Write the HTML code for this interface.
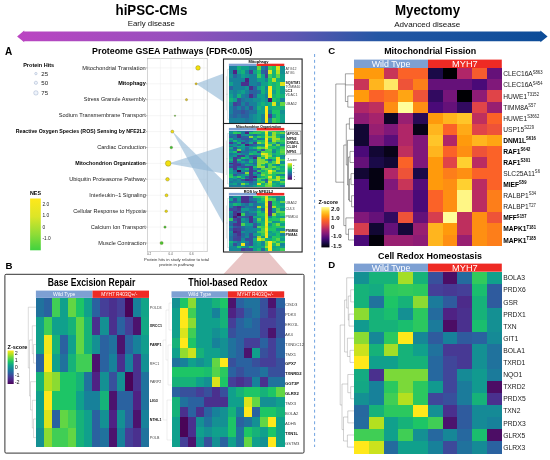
<!DOCTYPE html>
<html><head><meta charset="utf-8"><title>Figure</title>
<style>html,body{margin:0;padding:0;background:#fff}svg{display:block}</style></head>
<body>
<svg width="550" height="460" viewBox="0 0 550 460" font-family="'Liberation Sans', sans-serif">
<defs><linearGradient id="ag" x1="0" x2="1" y1="0" y2="0"><stop offset="0" stop-color="#bb45c2"/><stop offset="0.3" stop-color="#9650bd"/><stop offset="0.52" stop-color="#5f56b2"/><stop offset="0.68" stop-color="#2457a4"/><stop offset="1" stop-color="#0c4c98"/></linearGradient>
<linearGradient id="nes" x1="0" x2="0" y1="0" y2="1"><stop offset="0" stop-color="#ffe81a"/><stop offset="0.35" stop-color="#dce528"/><stop offset="0.7" stop-color="#8ddc37"/><stop offset="1" stop-color="#3fd23f"/></linearGradient>
<linearGradient id="vir" x1="0" x2="0" y1="1" y2="0"><stop offset="0.000" stop-color="#4a0458"/><stop offset="0.111" stop-color="#4f2284"/><stop offset="0.222" stop-color="#453f98"/><stop offset="0.333" stop-color="#2a62a0"/><stop offset="0.444" stop-color="#17819a"/><stop offset="0.556" stop-color="#10a08c"/><stop offset="0.667" stop-color="#1dc566"/><stop offset="0.778" stop-color="#62d644"/><stop offset="0.889" stop-color="#b4e01f"/><stop offset="1.000" stop-color="#ffe81a"/></linearGradient>
<linearGradient id="inf" x1="0" x2="0" y1="1" y2="0"><stop offset="0.000" stop-color="#000004"/><stop offset="0.111" stop-color="#1a0a48"/><stop offset="0.222" stop-color="#4a0a78"/><stop offset="0.333" stop-color="#80187a"/><stop offset="0.444" stop-color="#b02668"/><stop offset="0.556" stop-color="#e04448"/><stop offset="0.667" stop-color="#fb6228"/><stop offset="0.778" stop-color="#ff9a0c"/><stop offset="0.889" stop-color="#ffd030"/><stop offset="1.000" stop-color="#ffff9a"/></linearGradient></defs>
<rect width="550" height="460" fill="#fff"/>
<text x="151.40" y="14.60" font-size="14.30" font-weight="bold" text-anchor="middle" fill="#000" textLength="71.8" lengthAdjust="spacingAndGlyphs">hiPSC-CMs</text>
<text x="151.30" y="25.80" font-size="7.80" font-weight="normal" text-anchor="middle" fill="#111" textLength="47.3" lengthAdjust="spacingAndGlyphs">Early disease</text>
<text x="427.50" y="14.90" font-size="14.20" font-weight="bold" text-anchor="middle" fill="#000" textLength="65.2" lengthAdjust="spacingAndGlyphs">Myectomy</text>
<text x="427.30" y="27.20" font-size="7.80" font-weight="normal" text-anchor="middle" fill="#111" textLength="66.2" lengthAdjust="spacingAndGlyphs">Advanced disease</text>
<polygon points="17.1,36.5 24.2,30.6 24.2,31.5 540.4,31.5 540.4,30.6 547.6,36.5 540.4,42.2 540.4,41.3 24.2,41.3 24.2,42.2" fill="url(#ag)"/>
<line x1="314.6" y1="54" x2="314.6" y2="447" stroke="#5f97dc" stroke-width="0.9" stroke-dasharray="3,2.83"/>
<text x="4.90" y="55.40" font-size="10.00" font-weight="bold" text-anchor="start" fill="#000">A</text>
<text x="172.30" y="54.00" font-size="8.60" font-weight="bold" text-anchor="middle" fill="#000" textLength="160.5" lengthAdjust="spacingAndGlyphs">Proteome GSEA Pathways (FDR&lt;0.05)</text>
<text x="38.70" y="66.60" font-size="5.40" font-weight="bold" text-anchor="middle" fill="#000" textLength="31.0" lengthAdjust="spacingAndGlyphs">Protein Hits</text>
<circle cx="35.9" cy="73.6" r="1.2" fill="#eef3fb" stroke="#8aa0c0" stroke-width="0.4"/>
<text x="41.30" y="75.70" font-size="6.10" font-weight="normal" text-anchor="start" fill="#222">25</text>
<circle cx="35.9" cy="82.8" r="1.6" fill="#eef3fb" stroke="#8aa0c0" stroke-width="0.4"/>
<text x="41.30" y="84.90" font-size="6.10" font-weight="normal" text-anchor="start" fill="#222">50</text>
<circle cx="35.9" cy="92.9" r="2.2" fill="#eef3fb" stroke="#8aa0c0" stroke-width="0.4"/>
<text x="41.30" y="95.00" font-size="6.10" font-weight="normal" text-anchor="start" fill="#222">75</text>
<text x="30.00" y="195.00" font-size="5.40" font-weight="bold" text-anchor="start" fill="#000" textLength="11.0" lengthAdjust="spacingAndGlyphs">NES</text>
<rect x="30.1" y="198.5" width="10.7" height="51.8" fill="url(#nes)"/>
<text x="42.40" y="205.70" font-size="4.80" font-weight="normal" text-anchor="start" fill="#222">2.0</text>
<text x="42.40" y="217.20" font-size="4.80" font-weight="normal" text-anchor="start" fill="#222">1.0</text>
<text x="42.40" y="228.70" font-size="4.80" font-weight="normal" text-anchor="start" fill="#222">0</text>
<text x="42.40" y="239.70" font-size="4.80" font-weight="normal" text-anchor="start" fill="#222">-1.0</text>
<rect x="147.4" y="58.3" width="59.8" height="193.4" fill="#fff" stroke="#b8b8b8" stroke-width="0.6"/>
<line x1="160.4" y1="58.3" x2="160.4" y2="251.7" stroke="#ececec" stroke-width="0.5"/>
<line x1="170.9" y1="58.3" x2="170.9" y2="251.7" stroke="#ececec" stroke-width="0.5"/>
<line x1="181.7" y1="58.3" x2="181.7" y2="251.7" stroke="#ececec" stroke-width="0.5"/>
<line x1="193.0" y1="58.3" x2="193.0" y2="251.7" stroke="#ececec" stroke-width="0.5"/>
<line x1="203.9" y1="58.3" x2="203.9" y2="251.7" stroke="#ececec" stroke-width="0.5"/>
<line x1="147.4" y1="67.9" x2="207.2" y2="67.9" stroke="#ececec" stroke-width="0.5"/>
<line x1="145.9" y1="67.9" x2="147.4" y2="67.9" stroke="#555" stroke-width="0.4"/>
<line x1="147.4" y1="83.8" x2="207.2" y2="83.8" stroke="#ececec" stroke-width="0.5"/>
<line x1="145.9" y1="83.8" x2="147.4" y2="83.8" stroke="#555" stroke-width="0.4"/>
<line x1="147.4" y1="99.7" x2="207.2" y2="99.7" stroke="#ececec" stroke-width="0.5"/>
<line x1="145.9" y1="99.7" x2="147.4" y2="99.7" stroke="#555" stroke-width="0.4"/>
<line x1="147.4" y1="115.7" x2="207.2" y2="115.7" stroke="#ececec" stroke-width="0.5"/>
<line x1="145.9" y1="115.7" x2="147.4" y2="115.7" stroke="#555" stroke-width="0.4"/>
<line x1="147.4" y1="131.6" x2="207.2" y2="131.6" stroke="#ececec" stroke-width="0.5"/>
<line x1="145.9" y1="131.6" x2="147.4" y2="131.6" stroke="#555" stroke-width="0.4"/>
<line x1="147.4" y1="147.5" x2="207.2" y2="147.5" stroke="#ececec" stroke-width="0.5"/>
<line x1="145.9" y1="147.5" x2="147.4" y2="147.5" stroke="#555" stroke-width="0.4"/>
<line x1="147.4" y1="163.4" x2="207.2" y2="163.4" stroke="#ececec" stroke-width="0.5"/>
<line x1="145.9" y1="163.4" x2="147.4" y2="163.4" stroke="#555" stroke-width="0.4"/>
<line x1="147.4" y1="179.3" x2="207.2" y2="179.3" stroke="#ececec" stroke-width="0.5"/>
<line x1="145.9" y1="179.3" x2="147.4" y2="179.3" stroke="#555" stroke-width="0.4"/>
<line x1="147.4" y1="195.3" x2="207.2" y2="195.3" stroke="#ececec" stroke-width="0.5"/>
<line x1="145.9" y1="195.3" x2="147.4" y2="195.3" stroke="#555" stroke-width="0.4"/>
<line x1="147.4" y1="211.2" x2="207.2" y2="211.2" stroke="#ececec" stroke-width="0.5"/>
<line x1="145.9" y1="211.2" x2="147.4" y2="211.2" stroke="#555" stroke-width="0.4"/>
<line x1="147.4" y1="227.1" x2="207.2" y2="227.1" stroke="#ececec" stroke-width="0.5"/>
<line x1="145.9" y1="227.1" x2="147.4" y2="227.1" stroke="#555" stroke-width="0.4"/>
<line x1="147.4" y1="243.0" x2="207.2" y2="243.0" stroke="#ececec" stroke-width="0.5"/>
<line x1="145.9" y1="243.0" x2="147.4" y2="243.0" stroke="#555" stroke-width="0.4"/>
<text x="145.80" y="69.50" font-size="5.50" font-weight="normal" text-anchor="end" fill="#222" textLength="63.6" lengthAdjust="spacingAndGlyphs">Mitochondrial Translation</text>
<text x="145.80" y="85.42" font-size="5.50" font-weight="bold" text-anchor="end" fill="#000" textLength="27.6" lengthAdjust="spacingAndGlyphs">Mitophagy</text>
<text x="145.80" y="101.34" font-size="5.50" font-weight="normal" text-anchor="end" fill="#222" textLength="62.1" lengthAdjust="spacingAndGlyphs">Stress Granule Assembly</text>
<text x="145.80" y="117.26" font-size="5.50" font-weight="normal" text-anchor="end" fill="#222" textLength="87.1" lengthAdjust="spacingAndGlyphs">Sodium Transmembrane Transport</text>
<text x="145.80" y="133.18" font-size="5.50" font-weight="bold" text-anchor="end" fill="#000" textLength="130.1" lengthAdjust="spacingAndGlyphs">Reactive Oxygen Species (ROS) Sensing by NFE2L2</text>
<text x="145.80" y="149.10" font-size="5.50" font-weight="normal" text-anchor="end" fill="#222" textLength="48.6" lengthAdjust="spacingAndGlyphs">Cardiac Conduction</text>
<text x="145.80" y="165.02" font-size="5.50" font-weight="bold" text-anchor="end" fill="#000" textLength="70.6" lengthAdjust="spacingAndGlyphs">Mitochondrion Organization</text>
<text x="145.80" y="180.94" font-size="5.50" font-weight="normal" text-anchor="end" fill="#222" textLength="76.6" lengthAdjust="spacingAndGlyphs">Ubiquitin Proteasome Pathway</text>
<text x="145.80" y="196.86" font-size="5.50" font-weight="normal" text-anchor="end" fill="#222" textLength="56.6" lengthAdjust="spacingAndGlyphs">Interleukin&#8722;1 Signaling</text>
<text x="145.80" y="212.78" font-size="5.50" font-weight="normal" text-anchor="end" fill="#222" textLength="72.6" lengthAdjust="spacingAndGlyphs">Cellular Response to Hypoxia</text>
<text x="145.80" y="228.70" font-size="5.50" font-weight="normal" text-anchor="end" fill="#222" textLength="55.1" lengthAdjust="spacingAndGlyphs">Calcium Ion Transport</text>
<text x="145.80" y="244.62" font-size="5.50" font-weight="normal" text-anchor="end" fill="#222" textLength="47.6" lengthAdjust="spacingAndGlyphs">Muscle Contraction</text>
<polygon points="196.1,83.7 223.5,73.5 223.5,102" fill="#8db6d6" fill-opacity="0.6"/>
<polygon points="168.2,163.4 223.5,146 223.5,173.5" fill="#8db6d6" fill-opacity="0.6"/>
<polygon points="172.3,131.3 223.5,181 223.5,224" fill="#8db6d6" fill-opacity="0.6"/>
<circle cx="198.0" cy="67.9" r="2.3" fill="#f5e10a" stroke="#6b6b20" stroke-width="0.35"/>
<circle cx="196.1" cy="83.8" r="1.1" fill="#e9c21a" stroke="#6b6b20" stroke-width="0.35"/>
<circle cx="186.5" cy="99.7" r="1.1" fill="#e0c020" stroke="#6b6b20" stroke-width="0.35"/>
<circle cx="175.0" cy="115.7" r="0.7" fill="#3fbf3f" stroke="#6b6b20" stroke-width="0.35"/>
<circle cx="172.3" cy="131.6" r="1.5" fill="#f2df10" stroke="#6b6b20" stroke-width="0.35"/>
<circle cx="171.3" cy="147.5" r="1.3" fill="#35c135" stroke="#6b6b20" stroke-width="0.35"/>
<circle cx="168.2" cy="163.4" r="2.8" fill="#f2e010" stroke="#6b6b20" stroke-width="0.35"/>
<circle cx="167.5" cy="179.3" r="1.8" fill="#f0dc10" stroke="#6b6b20" stroke-width="0.35"/>
<circle cx="166.5" cy="195.3" r="1.5" fill="#f0dc10" stroke="#6b6b20" stroke-width="0.35"/>
<circle cx="166.2" cy="211.2" r="1.3" fill="#eed810" stroke="#6b6b20" stroke-width="0.35"/>
<circle cx="165.0" cy="227.1" r="1.2" fill="#3cc33c" stroke="#6b6b20" stroke-width="0.35"/>
<circle cx="161.6" cy="243.0" r="1.6" fill="#45c830" stroke="#6b6b20" stroke-width="0.35"/>
<text x="149.00" y="254.60" font-size="3.00" font-weight="normal" text-anchor="middle" fill="#555">0.2</text>
<text x="170.70" y="254.60" font-size="3.00" font-weight="normal" text-anchor="middle" fill="#555">0.4</text>
<text x="191.50" y="254.60" font-size="3.00" font-weight="normal" text-anchor="middle" fill="#555">0.6</text>
<text x="176.60" y="260.60" font-size="4.40" font-weight="normal" text-anchor="middle" fill="#333" textLength="65.0" lengthAdjust="spacingAndGlyphs">Protein hits in study relative to total</text>
<text x="176.70" y="266.20" font-size="4.40" font-weight="normal" text-anchor="middle" fill="#333" textLength="35.0" lengthAdjust="spacingAndGlyphs">protein in pathway</text>
<polygon points="243.7,252.5 268.6,252.5 287.5,274 223.6,274" fill="#e9c6c6"/>
<rect x="223.5" y="59.0" width="78.6" height="64.7" fill="#fff" stroke="#222" stroke-width="1.1"/>
<rect x="228.9" y="63.7" width="27.7" height="2.6" fill="#7da0d3"/>
<rect x="256.6" y="63.7" width="27.7" height="2.6" fill="#ee2a24"/>
<g shape-rendering="crispEdges">
<rect x="228.90" y="66.30" width="4.26" height="4.30" fill="#17819a"/>
<rect x="232.86" y="66.30" width="4.26" height="4.30" fill="#17819a"/>
<rect x="236.81" y="66.30" width="4.26" height="4.30" fill="#16b279"/>
<rect x="240.77" y="66.30" width="4.26" height="4.30" fill="#10a08c"/>
<rect x="244.73" y="66.30" width="4.26" height="4.30" fill="#10a08c"/>
<rect x="248.69" y="66.30" width="4.26" height="4.30" fill="#17819a"/>
<rect x="252.64" y="66.30" width="4.26" height="4.30" fill="#17819a"/>
<rect x="256.60" y="66.30" width="4.26" height="4.30" fill="#62d644"/>
<rect x="260.56" y="66.30" width="4.26" height="4.30" fill="#17819a"/>
<rect x="264.51" y="66.30" width="4.26" height="4.30" fill="#2a62a0"/>
<rect x="268.47" y="66.30" width="4.26" height="4.30" fill="#40ce55"/>
<rect x="272.43" y="66.30" width="4.26" height="4.30" fill="#1dc566"/>
<rect x="276.39" y="66.30" width="4.26" height="4.30" fill="#dae41c"/>
<rect x="280.34" y="66.30" width="4.26" height="4.30" fill="#149093"/>
<rect x="228.90" y="70.30" width="4.26" height="4.30" fill="#17819a"/>
<rect x="232.86" y="70.30" width="4.26" height="4.30" fill="#4f2284"/>
<rect x="236.81" y="70.30" width="4.26" height="4.30" fill="#10a08c"/>
<rect x="240.77" y="70.30" width="4.26" height="4.30" fill="#16b279"/>
<rect x="244.73" y="70.30" width="4.26" height="4.30" fill="#17819a"/>
<rect x="248.69" y="70.30" width="4.26" height="4.30" fill="#453f98"/>
<rect x="252.64" y="70.30" width="4.26" height="4.30" fill="#10a08c"/>
<rect x="256.60" y="70.30" width="4.26" height="4.30" fill="#1dc566"/>
<rect x="260.56" y="70.30" width="4.26" height="4.30" fill="#2a62a0"/>
<rect x="264.51" y="70.30" width="4.26" height="4.30" fill="#38509c"/>
<rect x="268.47" y="70.30" width="4.26" height="4.30" fill="#dae41c"/>
<rect x="272.43" y="70.30" width="4.26" height="4.30" fill="#16b279"/>
<rect x="276.39" y="70.30" width="4.26" height="4.30" fill="#b4e01f"/>
<rect x="280.34" y="70.30" width="4.26" height="4.30" fill="#149093"/>
<rect x="228.90" y="74.30" width="4.26" height="4.30" fill="#149093"/>
<rect x="232.86" y="74.30" width="4.26" height="4.30" fill="#2a62a0"/>
<rect x="236.81" y="74.30" width="4.26" height="4.30" fill="#17819a"/>
<rect x="240.77" y="74.30" width="4.26" height="4.30" fill="#10a08c"/>
<rect x="244.73" y="74.30" width="4.26" height="4.30" fill="#149093"/>
<rect x="248.69" y="74.30" width="4.26" height="4.30" fill="#17819a"/>
<rect x="252.64" y="74.30" width="4.26" height="4.30" fill="#17819a"/>
<rect x="256.60" y="74.30" width="4.26" height="4.30" fill="#40ce55"/>
<rect x="260.56" y="74.30" width="4.26" height="4.30" fill="#10a08c"/>
<rect x="264.51" y="74.30" width="4.26" height="4.30" fill="#453f98"/>
<rect x="268.47" y="74.30" width="4.26" height="4.30" fill="#40ce55"/>
<rect x="272.43" y="74.30" width="4.26" height="4.30" fill="#16b279"/>
<rect x="276.39" y="74.30" width="4.26" height="4.30" fill="#62d644"/>
<rect x="280.34" y="74.30" width="4.26" height="4.30" fill="#10a08c"/>
<rect x="228.90" y="78.30" width="4.26" height="4.30" fill="#17819a"/>
<rect x="232.86" y="78.30" width="4.26" height="4.30" fill="#17819a"/>
<rect x="236.81" y="78.30" width="4.26" height="4.30" fill="#17819a"/>
<rect x="240.77" y="78.30" width="4.26" height="4.30" fill="#17819a"/>
<rect x="244.73" y="78.30" width="4.26" height="4.30" fill="#4f2284"/>
<rect x="248.69" y="78.30" width="4.26" height="4.30" fill="#17819a"/>
<rect x="252.64" y="78.30" width="4.26" height="4.30" fill="#17819a"/>
<rect x="256.60" y="78.30" width="4.26" height="4.30" fill="#10a08c"/>
<rect x="260.56" y="78.30" width="4.26" height="4.30" fill="#10a08c"/>
<rect x="264.51" y="78.30" width="4.26" height="4.30" fill="#17819a"/>
<rect x="268.47" y="78.30" width="4.26" height="4.30" fill="#1dc566"/>
<rect x="272.43" y="78.30" width="4.26" height="4.30" fill="#b4e01f"/>
<rect x="276.39" y="78.30" width="4.26" height="4.30" fill="#16b279"/>
<rect x="280.34" y="78.30" width="4.26" height="4.30" fill="#10a08c"/>
<rect x="228.90" y="82.30" width="4.26" height="4.30" fill="#10a08c"/>
<rect x="232.86" y="82.30" width="4.26" height="4.30" fill="#17819a"/>
<rect x="236.81" y="82.30" width="4.26" height="4.30" fill="#17819a"/>
<rect x="240.77" y="82.30" width="4.26" height="4.30" fill="#4a308e"/>
<rect x="244.73" y="82.30" width="4.26" height="4.30" fill="#4a308e"/>
<rect x="248.69" y="82.30" width="4.26" height="4.30" fill="#17819a"/>
<rect x="252.64" y="82.30" width="4.26" height="4.30" fill="#17819a"/>
<rect x="256.60" y="82.30" width="4.26" height="4.30" fill="#20729d"/>
<rect x="260.56" y="82.30" width="4.26" height="4.30" fill="#10a08c"/>
<rect x="264.51" y="82.30" width="4.26" height="4.30" fill="#10a08c"/>
<rect x="268.47" y="82.30" width="4.26" height="4.30" fill="#1dc566"/>
<rect x="272.43" y="82.30" width="4.26" height="4.30" fill="#16b279"/>
<rect x="276.39" y="82.30" width="4.26" height="4.30" fill="#1dc566"/>
<rect x="280.34" y="82.30" width="4.26" height="4.30" fill="#dae41c"/>
<rect x="228.90" y="86.30" width="4.26" height="4.30" fill="#2a62a0"/>
<rect x="232.86" y="86.30" width="4.26" height="4.30" fill="#17819a"/>
<rect x="236.81" y="86.30" width="4.26" height="4.30" fill="#17819a"/>
<rect x="240.77" y="86.30" width="4.26" height="4.30" fill="#17819a"/>
<rect x="244.73" y="86.30" width="4.26" height="4.30" fill="#149093"/>
<rect x="248.69" y="86.30" width="4.26" height="4.30" fill="#4a308e"/>
<rect x="252.64" y="86.30" width="4.26" height="4.30" fill="#2a62a0"/>
<rect x="256.60" y="86.30" width="4.26" height="4.30" fill="#10a08c"/>
<rect x="260.56" y="86.30" width="4.26" height="4.30" fill="#16b279"/>
<rect x="264.51" y="86.30" width="4.26" height="4.30" fill="#17819a"/>
<rect x="268.47" y="86.30" width="4.26" height="4.30" fill="#ffe81a"/>
<rect x="272.43" y="86.30" width="4.26" height="4.30" fill="#16b279"/>
<rect x="276.39" y="86.30" width="4.26" height="4.30" fill="#1dc566"/>
<rect x="280.34" y="86.30" width="4.26" height="4.30" fill="#10a08c"/>
<rect x="228.90" y="90.30" width="4.26" height="4.30" fill="#149093"/>
<rect x="232.86" y="90.30" width="4.26" height="4.30" fill="#17819a"/>
<rect x="236.81" y="90.30" width="4.26" height="4.30" fill="#149093"/>
<rect x="240.77" y="90.30" width="4.26" height="4.30" fill="#10a08c"/>
<rect x="244.73" y="90.30" width="4.26" height="4.30" fill="#17819a"/>
<rect x="248.69" y="90.30" width="4.26" height="4.30" fill="#2a62a0"/>
<rect x="252.64" y="90.30" width="4.26" height="4.30" fill="#2a62a0"/>
<rect x="256.60" y="90.30" width="4.26" height="4.30" fill="#20729d"/>
<rect x="260.56" y="90.30" width="4.26" height="4.30" fill="#16b279"/>
<rect x="264.51" y="90.30" width="4.26" height="4.30" fill="#149093"/>
<rect x="268.47" y="90.30" width="4.26" height="4.30" fill="#ffe81a"/>
<rect x="272.43" y="90.30" width="4.26" height="4.30" fill="#10a08c"/>
<rect x="276.39" y="90.30" width="4.26" height="4.30" fill="#1dc566"/>
<rect x="280.34" y="90.30" width="4.26" height="4.30" fill="#10a08c"/>
<rect x="228.90" y="94.30" width="4.26" height="4.30" fill="#10a08c"/>
<rect x="232.86" y="94.30" width="4.26" height="4.30" fill="#17819a"/>
<rect x="236.81" y="94.30" width="4.26" height="4.30" fill="#16b279"/>
<rect x="240.77" y="94.30" width="4.26" height="4.30" fill="#17819a"/>
<rect x="244.73" y="94.30" width="4.26" height="4.30" fill="#20729d"/>
<rect x="248.69" y="94.30" width="4.26" height="4.30" fill="#4a308e"/>
<rect x="252.64" y="94.30" width="4.26" height="4.30" fill="#2a62a0"/>
<rect x="256.60" y="94.30" width="4.26" height="4.30" fill="#10a08c"/>
<rect x="260.56" y="94.30" width="4.26" height="4.30" fill="#10a08c"/>
<rect x="264.51" y="94.30" width="4.26" height="4.30" fill="#17819a"/>
<rect x="268.47" y="94.30" width="4.26" height="4.30" fill="#ffe81a"/>
<rect x="272.43" y="94.30" width="4.26" height="4.30" fill="#16b279"/>
<rect x="276.39" y="94.30" width="4.26" height="4.30" fill="#1dc566"/>
<rect x="280.34" y="94.30" width="4.26" height="4.30" fill="#16b279"/>
<rect x="228.90" y="98.30" width="4.26" height="4.30" fill="#16b279"/>
<rect x="232.86" y="98.30" width="4.26" height="4.30" fill="#10a08c"/>
<rect x="236.81" y="98.30" width="4.26" height="4.30" fill="#38509c"/>
<rect x="240.77" y="98.30" width="4.26" height="4.30" fill="#20729d"/>
<rect x="244.73" y="98.30" width="4.26" height="4.30" fill="#17819a"/>
<rect x="248.69" y="98.30" width="4.26" height="4.30" fill="#17819a"/>
<rect x="252.64" y="98.30" width="4.26" height="4.30" fill="#149093"/>
<rect x="256.60" y="98.30" width="4.26" height="4.30" fill="#149093"/>
<rect x="260.56" y="98.30" width="4.26" height="4.30" fill="#10a08c"/>
<rect x="264.51" y="98.30" width="4.26" height="4.30" fill="#149093"/>
<rect x="268.47" y="98.30" width="4.26" height="4.30" fill="#4c136e"/>
<rect x="272.43" y="98.30" width="4.26" height="4.30" fill="#1dc566"/>
<rect x="276.39" y="98.30" width="4.26" height="4.30" fill="#16b279"/>
<rect x="280.34" y="98.30" width="4.26" height="4.30" fill="#17819a"/>
<rect x="228.90" y="102.30" width="4.26" height="4.30" fill="#149093"/>
<rect x="232.86" y="102.30" width="4.26" height="4.30" fill="#453f98"/>
<rect x="236.81" y="102.30" width="4.26" height="4.30" fill="#38509c"/>
<rect x="240.77" y="102.30" width="4.26" height="4.30" fill="#17819a"/>
<rect x="244.73" y="102.30" width="4.26" height="4.30" fill="#2a62a0"/>
<rect x="248.69" y="102.30" width="4.26" height="4.30" fill="#17819a"/>
<rect x="252.64" y="102.30" width="4.26" height="4.30" fill="#17819a"/>
<rect x="256.60" y="102.30" width="4.26" height="4.30" fill="#10a08c"/>
<rect x="260.56" y="102.30" width="4.26" height="4.30" fill="#16b279"/>
<rect x="264.51" y="102.30" width="4.26" height="4.30" fill="#10a08c"/>
<rect x="268.47" y="102.30" width="4.26" height="4.30" fill="#16b279"/>
<rect x="272.43" y="102.30" width="4.26" height="4.30" fill="#dae41c"/>
<rect x="276.39" y="102.30" width="4.26" height="4.30" fill="#10a08c"/>
<rect x="280.34" y="102.30" width="4.26" height="4.30" fill="#62d644"/>
<rect x="228.90" y="106.30" width="4.26" height="4.30" fill="#17819a"/>
<rect x="232.86" y="106.30" width="4.26" height="4.30" fill="#2a62a0"/>
<rect x="236.81" y="106.30" width="4.26" height="4.30" fill="#17819a"/>
<rect x="240.77" y="106.30" width="4.26" height="4.30" fill="#2a62a0"/>
<rect x="244.73" y="106.30" width="4.26" height="4.30" fill="#17819a"/>
<rect x="248.69" y="106.30" width="4.26" height="4.30" fill="#38509c"/>
<rect x="252.64" y="106.30" width="4.26" height="4.30" fill="#17819a"/>
<rect x="256.60" y="106.30" width="4.26" height="4.30" fill="#16b279"/>
<rect x="260.56" y="106.30" width="4.26" height="4.30" fill="#10a08c"/>
<rect x="264.51" y="106.30" width="4.26" height="4.30" fill="#ffe81a"/>
<rect x="268.47" y="106.30" width="4.26" height="4.30" fill="#10a08c"/>
<rect x="272.43" y="106.30" width="4.26" height="4.30" fill="#16b279"/>
<rect x="276.39" y="106.30" width="4.26" height="4.30" fill="#16b279"/>
<rect x="280.34" y="106.30" width="4.26" height="4.30" fill="#16b279"/>
<rect x="228.90" y="110.30" width="4.26" height="4.30" fill="#17819a"/>
<rect x="232.86" y="110.30" width="4.26" height="4.30" fill="#2a62a0"/>
<rect x="236.81" y="110.30" width="4.26" height="4.30" fill="#2a62a0"/>
<rect x="240.77" y="110.30" width="4.26" height="4.30" fill="#38509c"/>
<rect x="244.73" y="110.30" width="4.26" height="4.30" fill="#2a62a0"/>
<rect x="248.69" y="110.30" width="4.26" height="4.30" fill="#20729d"/>
<rect x="252.64" y="110.30" width="4.26" height="4.30" fill="#20729d"/>
<rect x="256.60" y="110.30" width="4.26" height="4.30" fill="#10a08c"/>
<rect x="260.56" y="110.30" width="4.26" height="4.30" fill="#10a08c"/>
<rect x="264.51" y="110.30" width="4.26" height="4.30" fill="#ffe81a"/>
<rect x="268.47" y="110.30" width="4.26" height="4.30" fill="#17819a"/>
<rect x="272.43" y="110.30" width="4.26" height="4.30" fill="#1dc566"/>
<rect x="276.39" y="110.30" width="4.26" height="4.30" fill="#1dc566"/>
<rect x="280.34" y="110.30" width="4.26" height="4.30" fill="#149093"/>
<rect x="228.90" y="114.30" width="4.26" height="4.30" fill="#20729d"/>
<rect x="232.86" y="114.30" width="4.26" height="4.30" fill="#2a62a0"/>
<rect x="236.81" y="114.30" width="4.26" height="4.30" fill="#20729d"/>
<rect x="240.77" y="114.30" width="4.26" height="4.30" fill="#2a62a0"/>
<rect x="244.73" y="114.30" width="4.26" height="4.30" fill="#2a62a0"/>
<rect x="248.69" y="114.30" width="4.26" height="4.30" fill="#17819a"/>
<rect x="252.64" y="114.30" width="4.26" height="4.30" fill="#149093"/>
<rect x="256.60" y="114.30" width="4.26" height="4.30" fill="#10a08c"/>
<rect x="260.56" y="114.30" width="4.26" height="4.30" fill="#17819a"/>
<rect x="264.51" y="114.30" width="4.26" height="4.30" fill="#ffe81a"/>
<rect x="268.47" y="114.30" width="4.26" height="4.30" fill="#453f98"/>
<rect x="272.43" y="114.30" width="4.26" height="4.30" fill="#10a08c"/>
<rect x="276.39" y="114.30" width="4.26" height="4.30" fill="#1dc566"/>
<rect x="280.34" y="114.30" width="4.26" height="4.30" fill="#10a08c"/>
<rect x="228.90" y="118.30" width="4.26" height="4.30" fill="#17819a"/>
<rect x="232.86" y="118.30" width="4.26" height="4.30" fill="#17819a"/>
<rect x="236.81" y="118.30" width="4.26" height="4.30" fill="#17819a"/>
<rect x="240.77" y="118.30" width="4.26" height="4.30" fill="#17819a"/>
<rect x="244.73" y="118.30" width="4.26" height="4.30" fill="#20729d"/>
<rect x="248.69" y="118.30" width="4.26" height="4.30" fill="#17819a"/>
<rect x="252.64" y="118.30" width="4.26" height="4.30" fill="#149093"/>
<rect x="256.60" y="118.30" width="4.26" height="4.30" fill="#10a08c"/>
<rect x="260.56" y="118.30" width="4.26" height="4.30" fill="#17819a"/>
<rect x="264.51" y="118.30" width="4.26" height="4.30" fill="#ffe81a"/>
<rect x="268.47" y="118.30" width="4.26" height="4.30" fill="#17819a"/>
<rect x="272.43" y="118.30" width="4.26" height="4.30" fill="#40ce55"/>
<rect x="276.39" y="118.30" width="4.26" height="4.30" fill="#1dc566"/>
<rect x="280.34" y="118.30" width="4.26" height="4.30" fill="#10a08c"/>
</g>
<text x="258.50" y="63.20" font-size="4.10" font-weight="bold" text-anchor="middle" fill="#000" textLength="20.0" lengthAdjust="spacingAndGlyphs">Mitophagy</text>
<path d="M227.6,69.3 V119.3 M226.4,76.3 V110.3 M227.6,69.3 H228.9 M227.6,119.3 H228.9 M226.4,94.3 H227.6" stroke="#999" stroke-width="0.3" fill="none"/>
<rect x="223.5" y="123.5" width="78.6" height="64.7" fill="#fff" stroke="#222" stroke-width="1.1"/>
<rect x="228.9" y="127.9" width="27.7" height="2.6" fill="#7da0d3"/>
<rect x="256.6" y="127.9" width="27.7" height="2.6" fill="#ee2a24"/>
<g shape-rendering="crispEdges">
<rect x="228.90" y="130.50" width="4.26" height="2.18" fill="#178399"/>
<rect x="232.86" y="130.50" width="4.26" height="2.18" fill="#11a389"/>
<rect x="236.81" y="130.50" width="4.26" height="2.18" fill="#168499"/>
<rect x="240.77" y="130.50" width="4.26" height="2.18" fill="#17809a"/>
<rect x="244.73" y="130.50" width="4.26" height="2.18" fill="#34569d"/>
<rect x="248.69" y="130.50" width="4.26" height="2.18" fill="#1e759c"/>
<rect x="252.64" y="130.50" width="4.26" height="2.18" fill="#15af7d"/>
<rect x="256.60" y="130.50" width="4.26" height="2.18" fill="#28c860"/>
<rect x="260.56" y="130.50" width="4.26" height="2.18" fill="#57d349"/>
<rect x="264.51" y="130.50" width="4.26" height="2.18" fill="#f9e71a"/>
<rect x="268.47" y="130.50" width="4.26" height="2.18" fill="#4bd04f"/>
<rect x="272.43" y="130.50" width="4.26" height="2.18" fill="#33cb5b"/>
<rect x="276.39" y="130.50" width="4.26" height="2.18" fill="#1dc467"/>
<rect x="280.34" y="130.50" width="4.26" height="2.18" fill="#13a784"/>
<rect x="228.90" y="132.38" width="4.26" height="2.18" fill="#129790"/>
<rect x="232.86" y="132.38" width="4.26" height="2.18" fill="#30ca5d"/>
<rect x="236.81" y="132.38" width="4.26" height="2.18" fill="#22c663"/>
<rect x="240.77" y="132.38" width="4.26" height="2.18" fill="#1a7c9b"/>
<rect x="244.73" y="132.38" width="4.26" height="2.18" fill="#4f2182"/>
<rect x="248.69" y="132.38" width="4.26" height="2.18" fill="#26c762"/>
<rect x="252.64" y="132.38" width="4.26" height="2.18" fill="#3ccd56"/>
<rect x="256.60" y="132.38" width="4.26" height="2.18" fill="#34cb5b"/>
<rect x="260.56" y="132.38" width="4.26" height="2.18" fill="#17b477"/>
<rect x="264.51" y="132.38" width="4.26" height="2.18" fill="#f4e71b"/>
<rect x="268.47" y="132.38" width="4.26" height="2.18" fill="#109f8c"/>
<rect x="272.43" y="132.38" width="4.26" height="2.18" fill="#92dc2e"/>
<rect x="276.39" y="132.38" width="4.26" height="2.18" fill="#33ca5b"/>
<rect x="280.34" y="132.38" width="4.26" height="2.18" fill="#63d643"/>
<rect x="228.90" y="134.27" width="4.26" height="2.18" fill="#1f739d"/>
<rect x="232.86" y="134.27" width="4.26" height="2.18" fill="#226e9e"/>
<rect x="236.81" y="134.27" width="4.26" height="2.18" fill="#4a308e"/>
<rect x="240.77" y="134.27" width="4.26" height="2.18" fill="#158996"/>
<rect x="244.73" y="134.27" width="4.26" height="2.18" fill="#12988f"/>
<rect x="248.69" y="134.27" width="4.26" height="2.18" fill="#158897"/>
<rect x="252.64" y="134.27" width="4.26" height="2.18" fill="#246b9e"/>
<rect x="256.60" y="134.27" width="4.26" height="2.18" fill="#129591"/>
<rect x="260.56" y="134.27" width="4.26" height="2.18" fill="#12a587"/>
<rect x="264.51" y="134.27" width="4.26" height="2.18" fill="#d6e41d"/>
<rect x="268.47" y="134.27" width="4.26" height="2.18" fill="#11a488"/>
<rect x="272.43" y="134.27" width="4.26" height="2.18" fill="#90dc2f"/>
<rect x="276.39" y="134.27" width="4.26" height="2.18" fill="#16b07b"/>
<rect x="280.34" y="134.27" width="4.26" height="2.18" fill="#119d8d"/>
<rect x="228.90" y="136.15" width="4.26" height="2.18" fill="#2c609f"/>
<rect x="232.86" y="136.15" width="4.26" height="2.18" fill="#1e769c"/>
<rect x="236.81" y="136.15" width="4.26" height="2.18" fill="#4a308e"/>
<rect x="240.77" y="136.15" width="4.26" height="2.18" fill="#2e5d9f"/>
<rect x="244.73" y="136.15" width="4.26" height="2.18" fill="#2a62a0"/>
<rect x="248.69" y="136.15" width="4.26" height="2.18" fill="#91dc2f"/>
<rect x="252.64" y="136.15" width="4.26" height="2.18" fill="#109e8d"/>
<rect x="256.60" y="136.15" width="4.26" height="2.18" fill="#3ecd56"/>
<rect x="260.56" y="136.15" width="4.26" height="2.18" fill="#19bb70"/>
<rect x="264.51" y="136.15" width="4.26" height="2.18" fill="#d3e31d"/>
<rect x="268.47" y="136.15" width="4.26" height="2.18" fill="#79d939"/>
<rect x="272.43" y="136.15" width="4.26" height="2.18" fill="#a4de26"/>
<rect x="276.39" y="136.15" width="4.26" height="2.18" fill="#1bbf6c"/>
<rect x="280.34" y="136.15" width="4.26" height="2.18" fill="#158996"/>
<rect x="228.90" y="138.03" width="4.26" height="2.18" fill="#13a983"/>
<rect x="232.86" y="138.03" width="4.26" height="2.18" fill="#1f749d"/>
<rect x="236.81" y="138.03" width="4.26" height="2.18" fill="#1b7a9b"/>
<rect x="240.77" y="138.03" width="4.26" height="2.18" fill="#32579e"/>
<rect x="244.73" y="138.03" width="4.26" height="2.18" fill="#35549d"/>
<rect x="248.69" y="138.03" width="4.26" height="2.18" fill="#27689f"/>
<rect x="252.64" y="138.03" width="4.26" height="2.18" fill="#18b874"/>
<rect x="256.60" y="138.03" width="4.26" height="2.18" fill="#21709d"/>
<rect x="260.56" y="138.03" width="4.26" height="2.18" fill="#168499"/>
<rect x="264.51" y="138.03" width="4.26" height="2.18" fill="#fae71a"/>
<rect x="268.47" y="138.03" width="4.26" height="2.18" fill="#13a884"/>
<rect x="272.43" y="138.03" width="4.26" height="2.18" fill="#a4de26"/>
<rect x="276.39" y="138.03" width="4.26" height="2.18" fill="#9fdd29"/>
<rect x="280.34" y="138.03" width="4.26" height="2.18" fill="#18b775"/>
<rect x="228.90" y="139.92" width="4.26" height="2.18" fill="#168498"/>
<rect x="232.86" y="139.92" width="4.26" height="2.18" fill="#19ba71"/>
<rect x="236.81" y="139.92" width="4.26" height="2.18" fill="#158996"/>
<rect x="240.77" y="139.92" width="4.26" height="2.18" fill="#168698"/>
<rect x="244.73" y="139.92" width="4.26" height="2.18" fill="#28659f"/>
<rect x="248.69" y="139.92" width="4.26" height="2.18" fill="#168499"/>
<rect x="252.64" y="139.92" width="4.26" height="2.18" fill="#158997"/>
<rect x="256.60" y="139.92" width="4.26" height="2.18" fill="#1cc368"/>
<rect x="260.56" y="139.92" width="4.26" height="2.18" fill="#1abc6f"/>
<rect x="264.51" y="139.92" width="4.26" height="2.18" fill="#e9e61b"/>
<rect x="268.47" y="139.92" width="4.26" height="2.18" fill="#17809a"/>
<rect x="272.43" y="139.92" width="4.26" height="2.18" fill="#a4de26"/>
<rect x="276.39" y="139.92" width="4.26" height="2.18" fill="#51d24c"/>
<rect x="280.34" y="139.92" width="4.26" height="2.18" fill="#30ca5c"/>
<rect x="228.90" y="141.80" width="4.26" height="2.18" fill="#483793"/>
<rect x="232.86" y="141.80" width="4.26" height="2.18" fill="#20739d"/>
<rect x="236.81" y="141.80" width="4.26" height="2.18" fill="#17b478"/>
<rect x="240.77" y="141.80" width="4.26" height="2.18" fill="#453e97"/>
<rect x="244.73" y="141.80" width="4.26" height="2.18" fill="#1e769c"/>
<rect x="248.69" y="141.80" width="4.26" height="2.18" fill="#14aa81"/>
<rect x="252.64" y="141.80" width="4.26" height="2.18" fill="#414499"/>
<rect x="256.60" y="141.80" width="4.26" height="2.18" fill="#89db33"/>
<rect x="260.56" y="141.80" width="4.26" height="2.18" fill="#32ca5c"/>
<rect x="264.51" y="141.80" width="4.26" height="2.18" fill="#efe61b"/>
<rect x="268.47" y="141.80" width="4.26" height="2.18" fill="#1abd6e"/>
<rect x="272.43" y="141.80" width="4.26" height="2.18" fill="#3fcd55"/>
<rect x="276.39" y="141.80" width="4.26" height="2.18" fill="#158897"/>
<rect x="280.34" y="141.80" width="4.26" height="2.18" fill="#1bbf6c"/>
<rect x="228.90" y="143.68" width="4.26" height="2.18" fill="#148d95"/>
<rect x="232.86" y="143.68" width="4.26" height="2.18" fill="#139193"/>
<rect x="236.81" y="143.68" width="4.26" height="2.18" fill="#256a9e"/>
<rect x="240.77" y="143.68" width="4.26" height="2.18" fill="#10a18b"/>
<rect x="244.73" y="143.68" width="4.26" height="2.18" fill="#4e1d7d"/>
<rect x="248.69" y="143.68" width="4.26" height="2.18" fill="#36529c"/>
<rect x="252.64" y="143.68" width="4.26" height="2.18" fill="#246b9e"/>
<rect x="256.60" y="143.68" width="4.26" height="2.18" fill="#148f93"/>
<rect x="260.56" y="143.68" width="4.26" height="2.18" fill="#149093"/>
<rect x="264.51" y="143.68" width="4.26" height="2.18" fill="#fae71a"/>
<rect x="268.47" y="143.68" width="4.26" height="2.18" fill="#76d83b"/>
<rect x="272.43" y="143.68" width="4.26" height="2.18" fill="#139392"/>
<rect x="276.39" y="143.68" width="4.26" height="2.18" fill="#69d741"/>
<rect x="280.34" y="143.68" width="4.26" height="2.18" fill="#158a96"/>
<rect x="228.90" y="145.57" width="4.26" height="2.18" fill="#2e5c9f"/>
<rect x="232.86" y="145.57" width="4.26" height="2.18" fill="#12988f"/>
<rect x="236.81" y="145.57" width="4.26" height="2.18" fill="#16b07c"/>
<rect x="240.77" y="145.57" width="4.26" height="2.18" fill="#11a28a"/>
<rect x="244.73" y="145.57" width="4.26" height="2.18" fill="#148c95"/>
<rect x="248.69" y="145.57" width="4.26" height="2.18" fill="#168499"/>
<rect x="252.64" y="145.57" width="4.26" height="2.18" fill="#168499"/>
<rect x="256.60" y="145.57" width="4.26" height="2.18" fill="#34cb5b"/>
<rect x="260.56" y="145.57" width="4.26" height="2.18" fill="#17b379"/>
<rect x="264.51" y="145.57" width="4.26" height="2.18" fill="#ffe81a"/>
<rect x="268.47" y="145.57" width="4.26" height="2.18" fill="#1dc566"/>
<rect x="272.43" y="145.57" width="4.26" height="2.18" fill="#25c762"/>
<rect x="276.39" y="145.57" width="4.26" height="2.18" fill="#17b478"/>
<rect x="280.34" y="145.57" width="4.26" height="2.18" fill="#1cc16a"/>
<rect x="228.90" y="147.45" width="4.26" height="2.18" fill="#13a884"/>
<rect x="232.86" y="147.45" width="4.26" height="2.18" fill="#35539d"/>
<rect x="236.81" y="147.45" width="4.26" height="2.18" fill="#139193"/>
<rect x="240.77" y="147.45" width="4.26" height="2.18" fill="#129890"/>
<rect x="244.73" y="147.45" width="4.26" height="2.18" fill="#27679f"/>
<rect x="248.69" y="147.45" width="4.26" height="2.18" fill="#109e8d"/>
<rect x="252.64" y="147.45" width="4.26" height="2.18" fill="#1abd6e"/>
<rect x="256.60" y="147.45" width="4.26" height="2.18" fill="#72d83d"/>
<rect x="260.56" y="147.45" width="4.26" height="2.18" fill="#5dd546"/>
<rect x="264.51" y="147.45" width="4.26" height="2.18" fill="#d3e31d"/>
<rect x="268.47" y="147.45" width="4.26" height="2.18" fill="#27c761"/>
<rect x="272.43" y="147.45" width="4.26" height="2.18" fill="#1dc467"/>
<rect x="276.39" y="147.45" width="4.26" height="2.18" fill="#13a883"/>
<rect x="280.34" y="147.45" width="4.26" height="2.18" fill="#3acc58"/>
<rect x="228.90" y="149.33" width="4.26" height="2.18" fill="#158a96"/>
<rect x="232.86" y="149.33" width="4.26" height="2.18" fill="#26689f"/>
<rect x="236.81" y="149.33" width="4.26" height="2.18" fill="#71d83d"/>
<rect x="240.77" y="149.33" width="4.26" height="2.18" fill="#148d95"/>
<rect x="244.73" y="149.33" width="4.26" height="2.18" fill="#27679f"/>
<rect x="248.69" y="149.33" width="4.26" height="2.18" fill="#1b7a9b"/>
<rect x="252.64" y="149.33" width="4.26" height="2.18" fill="#1f749c"/>
<rect x="256.60" y="149.33" width="4.26" height="2.18" fill="#18b774"/>
<rect x="260.56" y="149.33" width="4.26" height="2.18" fill="#32579e"/>
<rect x="264.51" y="149.33" width="4.26" height="2.18" fill="#40ce55"/>
<rect x="268.47" y="149.33" width="4.26" height="2.18" fill="#55d34a"/>
<rect x="272.43" y="149.33" width="4.26" height="2.18" fill="#148e94"/>
<rect x="276.39" y="149.33" width="4.26" height="2.18" fill="#18b774"/>
<rect x="280.34" y="149.33" width="4.26" height="2.18" fill="#51d24d"/>
<rect x="228.90" y="151.22" width="4.26" height="2.18" fill="#11a28a"/>
<rect x="232.86" y="151.22" width="4.26" height="2.18" fill="#1cc269"/>
<rect x="236.81" y="151.22" width="4.26" height="2.18" fill="#493390"/>
<rect x="240.77" y="151.22" width="4.26" height="2.18" fill="#226f9d"/>
<rect x="244.73" y="151.22" width="4.26" height="2.18" fill="#22709d"/>
<rect x="248.69" y="151.22" width="4.26" height="2.18" fill="#129890"/>
<rect x="252.64" y="151.22" width="4.26" height="2.18" fill="#15ae7e"/>
<rect x="256.60" y="151.22" width="4.26" height="2.18" fill="#31599e"/>
<rect x="260.56" y="151.22" width="4.26" height="2.18" fill="#5bd447"/>
<rect x="264.51" y="151.22" width="4.26" height="2.18" fill="#40ce55"/>
<rect x="268.47" y="151.22" width="4.26" height="2.18" fill="#3ccd57"/>
<rect x="272.43" y="151.22" width="4.26" height="2.18" fill="#178399"/>
<rect x="276.39" y="151.22" width="4.26" height="2.18" fill="#1cc16a"/>
<rect x="280.34" y="151.22" width="4.26" height="2.18" fill="#63d643"/>
<rect x="228.90" y="153.10" width="4.26" height="2.18" fill="#1d789c"/>
<rect x="232.86" y="153.10" width="4.26" height="2.18" fill="#168698"/>
<rect x="236.81" y="153.10" width="4.26" height="2.18" fill="#109f8c"/>
<rect x="240.77" y="153.10" width="4.26" height="2.18" fill="#168499"/>
<rect x="244.73" y="153.10" width="4.26" height="2.18" fill="#1b7a9b"/>
<rect x="248.69" y="153.10" width="4.26" height="2.18" fill="#1dc467"/>
<rect x="252.64" y="153.10" width="4.26" height="2.18" fill="#14ac80"/>
<rect x="256.60" y="153.10" width="4.26" height="2.18" fill="#15ae7e"/>
<rect x="260.56" y="153.10" width="4.26" height="2.18" fill="#eae61b"/>
<rect x="264.51" y="153.10" width="4.26" height="2.18" fill="#dae41c"/>
<rect x="268.47" y="153.10" width="4.26" height="2.18" fill="#4ed14e"/>
<rect x="272.43" y="153.10" width="4.26" height="2.18" fill="#15af7d"/>
<rect x="276.39" y="153.10" width="4.26" height="2.18" fill="#1bbf6c"/>
<rect x="280.34" y="153.10" width="4.26" height="2.18" fill="#3ecd56"/>
<rect x="228.90" y="154.98" width="4.26" height="2.18" fill="#168797"/>
<rect x="232.86" y="154.98" width="4.26" height="2.18" fill="#12998f"/>
<rect x="236.81" y="154.98" width="4.26" height="2.18" fill="#473a95"/>
<rect x="240.77" y="154.98" width="4.26" height="2.18" fill="#463b95"/>
<rect x="244.73" y="154.98" width="4.26" height="2.18" fill="#129890"/>
<rect x="248.69" y="154.98" width="4.26" height="2.18" fill="#35549d"/>
<rect x="252.64" y="154.98" width="4.26" height="2.18" fill="#37519c"/>
<rect x="256.60" y="154.98" width="4.26" height="2.18" fill="#168499"/>
<rect x="260.56" y="154.98" width="4.26" height="2.18" fill="#6ad741"/>
<rect x="264.51" y="154.98" width="4.26" height="2.18" fill="#dae41c"/>
<rect x="268.47" y="154.98" width="4.26" height="2.18" fill="#7cd938"/>
<rect x="272.43" y="154.98" width="4.26" height="2.18" fill="#129691"/>
<rect x="276.39" y="154.98" width="4.26" height="2.18" fill="#19ba71"/>
<rect x="280.34" y="154.98" width="4.26" height="2.18" fill="#148f94"/>
<rect x="228.90" y="156.87" width="4.26" height="2.18" fill="#109e8d"/>
<rect x="232.86" y="156.87" width="4.26" height="2.18" fill="#473994"/>
<rect x="236.81" y="156.87" width="4.26" height="2.18" fill="#32579e"/>
<rect x="240.77" y="156.87" width="4.26" height="2.18" fill="#1dc566"/>
<rect x="244.73" y="156.87" width="4.26" height="2.18" fill="#13a983"/>
<rect x="248.69" y="156.87" width="4.26" height="2.18" fill="#1d769c"/>
<rect x="252.64" y="156.87" width="4.26" height="2.18" fill="#4d2989"/>
<rect x="256.60" y="156.87" width="4.26" height="2.18" fill="#76d83b"/>
<rect x="260.56" y="156.87" width="4.26" height="2.18" fill="#18b675"/>
<rect x="264.51" y="156.87" width="4.26" height="2.18" fill="#dae41c"/>
<rect x="268.47" y="156.87" width="4.26" height="2.18" fill="#27c761"/>
<rect x="272.43" y="156.87" width="4.26" height="2.18" fill="#27c861"/>
<rect x="276.39" y="156.87" width="4.26" height="2.18" fill="#e1e51c"/>
<rect x="280.34" y="156.87" width="4.26" height="2.18" fill="#139392"/>
<rect x="228.90" y="158.75" width="4.26" height="2.18" fill="#16b07c"/>
<rect x="232.86" y="158.75" width="4.26" height="2.18" fill="#473994"/>
<rect x="236.81" y="158.75" width="4.26" height="2.18" fill="#1bc06b"/>
<rect x="240.77" y="158.75" width="4.26" height="2.18" fill="#1e769c"/>
<rect x="244.73" y="158.75" width="4.26" height="2.18" fill="#2d5e9f"/>
<rect x="248.69" y="158.75" width="4.26" height="2.18" fill="#14aa82"/>
<rect x="252.64" y="158.75" width="4.26" height="2.18" fill="#178399"/>
<rect x="256.60" y="158.75" width="4.26" height="2.18" fill="#8bdb32"/>
<rect x="260.56" y="158.75" width="4.26" height="2.18" fill="#78d93a"/>
<rect x="264.51" y="158.75" width="4.26" height="2.18" fill="#15af7c"/>
<rect x="268.47" y="158.75" width="4.26" height="2.18" fill="#27679f"/>
<rect x="272.43" y="158.75" width="4.26" height="2.18" fill="#14aa82"/>
<rect x="276.39" y="158.75" width="4.26" height="2.18" fill="#e1e51c"/>
<rect x="280.34" y="158.75" width="4.26" height="2.18" fill="#46cf52"/>
<rect x="228.90" y="160.63" width="4.26" height="2.18" fill="#158b95"/>
<rect x="232.86" y="160.63" width="4.26" height="2.18" fill="#473994"/>
<rect x="236.81" y="160.63" width="4.26" height="2.18" fill="#197d9b"/>
<rect x="240.77" y="160.63" width="4.26" height="2.18" fill="#10a18b"/>
<rect x="244.73" y="160.63" width="4.26" height="2.18" fill="#17819a"/>
<rect x="248.69" y="160.63" width="4.26" height="2.18" fill="#19ba72"/>
<rect x="252.64" y="160.63" width="4.26" height="2.18" fill="#1a7b9b"/>
<rect x="256.60" y="160.63" width="4.26" height="2.18" fill="#8bdb32"/>
<rect x="260.56" y="160.63" width="4.26" height="2.18" fill="#7ed937"/>
<rect x="264.51" y="160.63" width="4.26" height="2.18" fill="#89db33"/>
<rect x="268.47" y="160.63" width="4.26" height="2.18" fill="#109f8d"/>
<rect x="272.43" y="160.63" width="4.26" height="2.18" fill="#4bd04f"/>
<rect x="276.39" y="160.63" width="4.26" height="2.18" fill="#e1e51c"/>
<rect x="280.34" y="160.63" width="4.26" height="2.18" fill="#139193"/>
<rect x="228.90" y="162.52" width="4.26" height="2.18" fill="#4c2989"/>
<rect x="232.86" y="162.52" width="4.26" height="2.18" fill="#473994"/>
<rect x="236.81" y="162.52" width="4.26" height="2.18" fill="#3f479a"/>
<rect x="240.77" y="162.52" width="4.26" height="2.18" fill="#197d9b"/>
<rect x="244.73" y="162.52" width="4.26" height="2.18" fill="#1e769c"/>
<rect x="248.69" y="162.52" width="4.26" height="2.18" fill="#1a7d9b"/>
<rect x="252.64" y="162.52" width="4.26" height="2.18" fill="#28659f"/>
<rect x="256.60" y="162.52" width="4.26" height="2.18" fill="#8bdb32"/>
<rect x="260.56" y="162.52" width="4.26" height="2.18" fill="#99dd2b"/>
<rect x="264.51" y="162.52" width="4.26" height="2.18" fill="#1abc70"/>
<rect x="268.47" y="162.52" width="4.26" height="2.18" fill="#31ca5c"/>
<rect x="272.43" y="162.52" width="4.26" height="2.18" fill="#54d34b"/>
<rect x="276.39" y="162.52" width="4.26" height="2.18" fill="#e1e51c"/>
<rect x="280.34" y="162.52" width="4.26" height="2.18" fill="#158b96"/>
<rect x="228.90" y="164.40" width="4.26" height="2.18" fill="#27679f"/>
<rect x="232.86" y="164.40" width="4.26" height="2.18" fill="#473994"/>
<rect x="236.81" y="164.40" width="4.26" height="2.18" fill="#483692"/>
<rect x="240.77" y="164.40" width="4.26" height="2.18" fill="#28659f"/>
<rect x="244.73" y="164.40" width="4.26" height="2.18" fill="#13aa82"/>
<rect x="248.69" y="164.40" width="4.26" height="2.18" fill="#109f8c"/>
<rect x="252.64" y="164.40" width="4.26" height="2.18" fill="#197e9b"/>
<rect x="256.60" y="164.40" width="4.26" height="2.18" fill="#8bdb32"/>
<rect x="260.56" y="164.40" width="4.26" height="2.18" fill="#1bc16a"/>
<rect x="264.51" y="164.40" width="4.26" height="2.18" fill="#148d94"/>
<rect x="268.47" y="164.40" width="4.26" height="2.18" fill="#4fd14e"/>
<rect x="272.43" y="164.40" width="4.26" height="2.18" fill="#10a08c"/>
<rect x="276.39" y="164.40" width="4.26" height="2.18" fill="#158a96"/>
<rect x="280.34" y="164.40" width="4.26" height="2.18" fill="#2dc95e"/>
<rect x="228.90" y="166.28" width="4.26" height="2.18" fill="#3d499a"/>
<rect x="232.86" y="166.28" width="4.26" height="2.18" fill="#473994"/>
<rect x="236.81" y="166.28" width="4.26" height="2.18" fill="#236e9e"/>
<rect x="240.77" y="166.28" width="4.26" height="2.18" fill="#37519c"/>
<rect x="244.73" y="166.28" width="4.26" height="2.18" fill="#3a4d9b"/>
<rect x="248.69" y="166.28" width="4.26" height="2.18" fill="#473994"/>
<rect x="252.64" y="166.28" width="4.26" height="2.18" fill="#1bc06c"/>
<rect x="256.60" y="166.28" width="4.26" height="2.18" fill="#8bdb32"/>
<rect x="260.56" y="166.28" width="4.26" height="2.18" fill="#91dc2f"/>
<rect x="264.51" y="166.28" width="4.26" height="2.18" fill="#1a7d9b"/>
<rect x="268.47" y="166.28" width="4.26" height="2.18" fill="#49d050"/>
<rect x="272.43" y="166.28" width="4.26" height="2.18" fill="#6bd740"/>
<rect x="276.39" y="166.28" width="4.26" height="2.18" fill="#1ec565"/>
<rect x="280.34" y="166.28" width="4.26" height="2.18" fill="#13a785"/>
<rect x="228.90" y="168.17" width="4.26" height="2.18" fill="#109f8d"/>
<rect x="232.86" y="168.17" width="4.26" height="2.18" fill="#473994"/>
<rect x="236.81" y="168.17" width="4.26" height="2.18" fill="#119a8f"/>
<rect x="240.77" y="168.17" width="4.26" height="2.18" fill="#158c95"/>
<rect x="244.73" y="168.17" width="4.26" height="2.18" fill="#19ba71"/>
<rect x="248.69" y="168.17" width="4.26" height="2.18" fill="#473994"/>
<rect x="252.64" y="168.17" width="4.26" height="2.18" fill="#139193"/>
<rect x="256.60" y="168.17" width="4.26" height="2.18" fill="#226f9e"/>
<rect x="260.56" y="168.17" width="4.26" height="2.18" fill="#4cd14f"/>
<rect x="264.51" y="168.17" width="4.26" height="2.18" fill="#6ed73f"/>
<rect x="268.47" y="168.17" width="4.26" height="2.18" fill="#54d24b"/>
<rect x="272.43" y="168.17" width="4.26" height="2.18" fill="#12a785"/>
<rect x="276.39" y="168.17" width="4.26" height="2.18" fill="#3dcd56"/>
<rect x="280.34" y="168.17" width="4.26" height="2.18" fill="#17b477"/>
<rect x="228.90" y="170.05" width="4.26" height="2.18" fill="#13a784"/>
<rect x="232.86" y="170.05" width="4.26" height="2.18" fill="#21719d"/>
<rect x="236.81" y="170.05" width="4.26" height="2.18" fill="#4a0458"/>
<rect x="240.77" y="170.05" width="4.26" height="2.18" fill="#158897"/>
<rect x="244.73" y="170.05" width="4.26" height="2.18" fill="#158a96"/>
<rect x="248.69" y="170.05" width="4.26" height="2.18" fill="#473994"/>
<rect x="252.64" y="170.05" width="4.26" height="2.18" fill="#3a4e9b"/>
<rect x="256.60" y="170.05" width="4.26" height="2.18" fill="#2ec95d"/>
<rect x="260.56" y="170.05" width="4.26" height="2.18" fill="#14ac80"/>
<rect x="264.51" y="170.05" width="4.26" height="2.18" fill="#33ca5b"/>
<rect x="268.47" y="170.05" width="4.26" height="2.18" fill="#fbe81a"/>
<rect x="272.43" y="170.05" width="4.26" height="2.18" fill="#7bd939"/>
<rect x="276.39" y="170.05" width="4.26" height="2.18" fill="#139392"/>
<rect x="280.34" y="170.05" width="4.26" height="2.18" fill="#14ab80"/>
<rect x="228.90" y="171.93" width="4.26" height="2.18" fill="#11a488"/>
<rect x="232.86" y="171.93" width="4.26" height="2.18" fill="#178299"/>
<rect x="236.81" y="171.93" width="4.26" height="2.18" fill="#31599e"/>
<rect x="240.77" y="171.93" width="4.26" height="2.18" fill="#305a9e"/>
<rect x="244.73" y="171.93" width="4.26" height="2.18" fill="#8bdb31"/>
<rect x="248.69" y="171.93" width="4.26" height="2.18" fill="#473994"/>
<rect x="252.64" y="171.93" width="4.26" height="2.18" fill="#12998f"/>
<rect x="256.60" y="171.93" width="4.26" height="2.18" fill="#2e5d9f"/>
<rect x="260.56" y="171.93" width="4.26" height="2.18" fill="#37cc59"/>
<rect x="264.51" y="171.93" width="4.26" height="2.18" fill="#2dc95e"/>
<rect x="268.47" y="171.93" width="4.26" height="2.18" fill="#cce31d"/>
<rect x="272.43" y="171.93" width="4.26" height="2.18" fill="#29c860"/>
<rect x="276.39" y="171.93" width="4.26" height="2.18" fill="#3fcd55"/>
<rect x="280.34" y="171.93" width="4.26" height="2.18" fill="#42ce54"/>
<rect x="228.90" y="173.82" width="4.26" height="2.18" fill="#1ec565"/>
<rect x="232.86" y="173.82" width="4.26" height="2.18" fill="#35539d"/>
<rect x="236.81" y="173.82" width="4.26" height="2.18" fill="#1a7d9b"/>
<rect x="240.77" y="173.82" width="4.26" height="2.18" fill="#129691"/>
<rect x="244.73" y="173.82" width="4.26" height="2.18" fill="#16b07c"/>
<rect x="248.69" y="173.82" width="4.26" height="2.18" fill="#473994"/>
<rect x="252.64" y="173.82" width="4.26" height="2.18" fill="#1c789c"/>
<rect x="256.60" y="173.82" width="4.26" height="2.18" fill="#13a983"/>
<rect x="260.56" y="173.82" width="4.26" height="2.18" fill="#78d93a"/>
<rect x="264.51" y="173.82" width="4.26" height="2.18" fill="#31ca5c"/>
<rect x="268.47" y="173.82" width="4.26" height="2.18" fill="#4ad050"/>
<rect x="272.43" y="173.82" width="4.26" height="2.18" fill="#1cc16a"/>
<rect x="276.39" y="173.82" width="4.26" height="2.18" fill="#148d95"/>
<rect x="280.34" y="173.82" width="4.26" height="2.18" fill="#158897"/>
<rect x="228.90" y="175.70" width="4.26" height="2.18" fill="#2bc85f"/>
<rect x="232.86" y="175.70" width="4.26" height="2.18" fill="#13a983"/>
<rect x="236.81" y="175.70" width="4.26" height="2.18" fill="#36cb5a"/>
<rect x="240.77" y="175.70" width="4.26" height="2.18" fill="#10a08c"/>
<rect x="244.73" y="175.70" width="4.26" height="2.18" fill="#31589e"/>
<rect x="248.69" y="175.70" width="4.26" height="2.18" fill="#473994"/>
<rect x="252.64" y="175.70" width="4.26" height="2.18" fill="#4f2283"/>
<rect x="256.60" y="175.70" width="4.26" height="2.18" fill="#119c8e"/>
<rect x="260.56" y="175.70" width="4.26" height="2.18" fill="#18b874"/>
<rect x="264.51" y="175.70" width="4.26" height="2.18" fill="#30ca5d"/>
<rect x="268.47" y="175.70" width="4.26" height="2.18" fill="#eae61b"/>
<rect x="272.43" y="175.70" width="4.26" height="2.18" fill="#17b577"/>
<rect x="276.39" y="175.70" width="4.26" height="2.18" fill="#b4e01f"/>
<rect x="280.34" y="175.70" width="4.26" height="2.18" fill="#1dc566"/>
<rect x="228.90" y="177.58" width="4.26" height="2.18" fill="#158997"/>
<rect x="232.86" y="177.58" width="4.26" height="2.18" fill="#10a18b"/>
<rect x="236.81" y="177.58" width="4.26" height="2.18" fill="#28669f"/>
<rect x="240.77" y="177.58" width="4.26" height="2.18" fill="#20c664"/>
<rect x="244.73" y="177.58" width="4.26" height="2.18" fill="#20729d"/>
<rect x="248.69" y="177.58" width="4.26" height="2.18" fill="#473994"/>
<rect x="252.64" y="177.58" width="4.26" height="2.18" fill="#148f94"/>
<rect x="256.60" y="177.58" width="4.26" height="2.18" fill="#47cf51"/>
<rect x="260.56" y="177.58" width="4.26" height="2.18" fill="#42ce54"/>
<rect x="264.51" y="177.58" width="4.26" height="2.18" fill="#1abd6e"/>
<rect x="268.47" y="177.58" width="4.26" height="2.18" fill="#95dc2d"/>
<rect x="272.43" y="177.58" width="4.26" height="2.18" fill="#1bc06b"/>
<rect x="276.39" y="177.58" width="4.26" height="2.18" fill="#b4e01f"/>
<rect x="280.34" y="177.58" width="4.26" height="2.18" fill="#58d449"/>
<rect x="228.90" y="179.47" width="4.26" height="2.18" fill="#149093"/>
<rect x="232.86" y="179.47" width="4.26" height="2.18" fill="#1e769c"/>
<rect x="236.81" y="179.47" width="4.26" height="2.18" fill="#139193"/>
<rect x="240.77" y="179.47" width="4.26" height="2.18" fill="#35549d"/>
<rect x="244.73" y="179.47" width="4.26" height="2.18" fill="#4c2c8b"/>
<rect x="248.69" y="179.47" width="4.26" height="2.18" fill="#473994"/>
<rect x="252.64" y="179.47" width="4.26" height="2.18" fill="#34569d"/>
<rect x="256.60" y="179.47" width="4.26" height="2.18" fill="#40ce55"/>
<rect x="260.56" y="179.47" width="4.26" height="2.18" fill="#139193"/>
<rect x="264.51" y="179.47" width="4.26" height="2.18" fill="#2f5b9e"/>
<rect x="268.47" y="179.47" width="4.26" height="2.18" fill="#75d83b"/>
<rect x="272.43" y="179.47" width="4.26" height="2.18" fill="#86da34"/>
<rect x="276.39" y="179.47" width="4.26" height="2.18" fill="#b4e01f"/>
<rect x="280.34" y="179.47" width="4.26" height="2.18" fill="#119c8e"/>
<rect x="228.90" y="181.35" width="4.26" height="2.18" fill="#1e769c"/>
<rect x="232.86" y="181.35" width="4.26" height="2.18" fill="#158996"/>
<rect x="236.81" y="181.35" width="4.26" height="2.18" fill="#158996"/>
<rect x="240.77" y="181.35" width="4.26" height="2.18" fill="#158a96"/>
<rect x="244.73" y="181.35" width="4.26" height="2.18" fill="#1a7c9b"/>
<rect x="248.69" y="181.35" width="4.26" height="2.18" fill="#2e5d9f"/>
<rect x="252.64" y="181.35" width="4.26" height="2.18" fill="#168797"/>
<rect x="256.60" y="181.35" width="4.26" height="2.18" fill="#24c763"/>
<rect x="260.56" y="181.35" width="4.26" height="2.18" fill="#5cd447"/>
<rect x="264.51" y="181.35" width="4.26" height="2.18" fill="#1a7c9b"/>
<rect x="268.47" y="181.35" width="4.26" height="2.18" fill="#d2e31d"/>
<rect x="272.43" y="181.35" width="4.26" height="2.18" fill="#119d8d"/>
<rect x="276.39" y="181.35" width="4.26" height="2.18" fill="#15ae7e"/>
<rect x="280.34" y="181.35" width="4.26" height="2.18" fill="#59d448"/>
<rect x="228.90" y="183.23" width="4.26" height="2.18" fill="#129790"/>
<rect x="232.86" y="183.23" width="4.26" height="2.18" fill="#12a587"/>
<rect x="236.81" y="183.23" width="4.26" height="2.18" fill="#1e759c"/>
<rect x="240.77" y="183.23" width="4.26" height="2.18" fill="#7ed938"/>
<rect x="244.73" y="183.23" width="4.26" height="2.18" fill="#17b576"/>
<rect x="248.69" y="183.23" width="4.26" height="2.18" fill="#1e759c"/>
<rect x="252.64" y="183.23" width="4.26" height="2.18" fill="#17829a"/>
<rect x="256.60" y="183.23" width="4.26" height="2.18" fill="#dee41c"/>
<rect x="260.56" y="183.23" width="4.26" height="2.18" fill="#14ac80"/>
<rect x="264.51" y="183.23" width="4.26" height="2.18" fill="#4bd050"/>
<rect x="268.47" y="183.23" width="4.26" height="2.18" fill="#a5de26"/>
<rect x="272.43" y="183.23" width="4.26" height="2.18" fill="#19ba71"/>
<rect x="276.39" y="183.23" width="4.26" height="2.18" fill="#109f8d"/>
<rect x="280.34" y="183.23" width="4.26" height="2.18" fill="#19b972"/>
<rect x="228.90" y="185.12" width="4.26" height="2.18" fill="#1b7a9b"/>
<rect x="232.86" y="185.12" width="4.26" height="2.18" fill="#197e9b"/>
<rect x="236.81" y="185.12" width="4.26" height="2.18" fill="#1a7c9b"/>
<rect x="240.77" y="185.12" width="4.26" height="2.18" fill="#149093"/>
<rect x="244.73" y="185.12" width="4.26" height="2.18" fill="#1f749d"/>
<rect x="248.69" y="185.12" width="4.26" height="2.18" fill="#168598"/>
<rect x="252.64" y="185.12" width="4.26" height="2.18" fill="#10a18b"/>
<rect x="256.60" y="185.12" width="4.26" height="2.18" fill="#1bbf6c"/>
<rect x="260.56" y="185.12" width="4.26" height="2.18" fill="#1bc06b"/>
<rect x="264.51" y="185.12" width="4.26" height="2.18" fill="#6ed83e"/>
<rect x="268.47" y="185.12" width="4.26" height="2.18" fill="#7fda37"/>
<rect x="272.43" y="185.12" width="4.26" height="2.18" fill="#15ae7e"/>
<rect x="276.39" y="185.12" width="4.26" height="2.18" fill="#13a884"/>
<rect x="280.34" y="185.12" width="4.26" height="2.18" fill="#21719d"/>
</g>
<text x="258.50" y="127.70" font-size="4.10" font-weight="bold" text-anchor="middle" fill="#000" textLength="45.0" lengthAdjust="spacingAndGlyphs">Mitochondrion Organization</text>
<path d="M227.6,133.5 V184.0 M226.4,140.5 V175.0 M227.6,133.5 H228.9 M227.6,184.0 H228.9 M226.4,158.8 H227.6" stroke="#999" stroke-width="0.3" fill="none"/>
<rect x="223.5" y="188.3" width="78.6" height="63.7" fill="#fff" stroke="#222" stroke-width="1.1"/>
<rect x="228.9" y="192.9" width="27.7" height="2.6" fill="#7da0d3"/>
<rect x="256.6" y="192.9" width="27.7" height="2.6" fill="#ee2a24"/>
<g shape-rendering="crispEdges">
<rect x="228.90" y="195.50" width="4.26" height="2.80" fill="#226f9d"/>
<rect x="232.86" y="195.50" width="4.26" height="2.80" fill="#129691"/>
<rect x="236.81" y="195.50" width="4.26" height="2.80" fill="#129691"/>
<rect x="240.77" y="195.50" width="4.26" height="2.80" fill="#4a308e"/>
<rect x="244.73" y="195.50" width="4.26" height="2.80" fill="#4a308e"/>
<rect x="248.69" y="195.50" width="4.26" height="2.80" fill="#33579d"/>
<rect x="252.64" y="195.50" width="4.26" height="2.80" fill="#1cc269"/>
<rect x="256.60" y="195.50" width="4.26" height="2.80" fill="#1dc467"/>
<rect x="260.56" y="195.50" width="4.26" height="2.80" fill="#3ecd56"/>
<rect x="264.51" y="195.50" width="4.26" height="2.80" fill="#e3e51c"/>
<rect x="268.47" y="195.50" width="4.26" height="2.80" fill="#19b972"/>
<rect x="272.43" y="195.50" width="4.26" height="2.80" fill="#11a28a"/>
<rect x="276.39" y="195.50" width="4.26" height="2.80" fill="#148f94"/>
<rect x="280.34" y="195.50" width="4.26" height="2.80" fill="#14ad7f"/>
<rect x="228.90" y="198.00" width="4.26" height="2.80" fill="#10a18b"/>
<rect x="232.86" y="198.00" width="4.26" height="2.80" fill="#36529c"/>
<rect x="236.81" y="198.00" width="4.26" height="2.80" fill="#129790"/>
<rect x="240.77" y="198.00" width="4.26" height="2.80" fill="#4a308e"/>
<rect x="244.73" y="198.00" width="4.26" height="2.80" fill="#4a308e"/>
<rect x="248.69" y="198.00" width="4.26" height="2.80" fill="#27679f"/>
<rect x="252.64" y="198.00" width="4.26" height="2.80" fill="#1a7c9b"/>
<rect x="256.60" y="198.00" width="4.26" height="2.80" fill="#119d8e"/>
<rect x="260.56" y="198.00" width="4.26" height="2.80" fill="#1dc467"/>
<rect x="264.51" y="198.00" width="4.26" height="2.80" fill="#f1e71b"/>
<rect x="268.47" y="198.00" width="4.26" height="2.80" fill="#58d349"/>
<rect x="272.43" y="198.00" width="4.26" height="2.80" fill="#43ce53"/>
<rect x="276.39" y="198.00" width="4.26" height="2.80" fill="#158b96"/>
<rect x="280.34" y="198.00" width="4.26" height="2.80" fill="#11a28a"/>
<rect x="228.90" y="200.50" width="4.26" height="2.80" fill="#2963a0"/>
<rect x="232.86" y="200.50" width="4.26" height="2.80" fill="#2a63a0"/>
<rect x="236.81" y="200.50" width="4.26" height="2.80" fill="#17829a"/>
<rect x="240.77" y="200.50" width="4.26" height="2.80" fill="#4a308e"/>
<rect x="244.73" y="200.50" width="4.26" height="2.80" fill="#4a308e"/>
<rect x="248.69" y="200.50" width="4.26" height="2.80" fill="#37519c"/>
<rect x="252.64" y="200.50" width="4.26" height="2.80" fill="#2e5d9f"/>
<rect x="256.60" y="200.50" width="4.26" height="2.80" fill="#16b27a"/>
<rect x="260.56" y="200.50" width="4.26" height="2.80" fill="#14ac80"/>
<rect x="264.51" y="200.50" width="4.26" height="2.80" fill="#e3e51c"/>
<rect x="268.47" y="200.50" width="4.26" height="2.80" fill="#4a308e"/>
<rect x="272.43" y="200.50" width="4.26" height="2.80" fill="#1bc06c"/>
<rect x="276.39" y="200.50" width="4.26" height="2.80" fill="#15ad7e"/>
<rect x="280.34" y="200.50" width="4.26" height="2.80" fill="#5ed546"/>
<rect x="228.90" y="203.00" width="4.26" height="2.80" fill="#139292"/>
<rect x="232.86" y="203.00" width="4.26" height="2.80" fill="#19b972"/>
<rect x="236.81" y="203.00" width="4.26" height="2.80" fill="#13a982"/>
<rect x="240.77" y="203.00" width="4.26" height="2.80" fill="#187f9a"/>
<rect x="244.73" y="203.00" width="4.26" height="2.80" fill="#256a9e"/>
<rect x="248.69" y="203.00" width="4.26" height="2.80" fill="#119c8e"/>
<rect x="252.64" y="203.00" width="4.26" height="2.80" fill="#226f9e"/>
<rect x="256.60" y="203.00" width="4.26" height="2.80" fill="#168499"/>
<rect x="260.56" y="203.00" width="4.26" height="2.80" fill="#139292"/>
<rect x="264.51" y="203.00" width="4.26" height="2.80" fill="#fce81a"/>
<rect x="268.47" y="203.00" width="4.26" height="2.80" fill="#4a308e"/>
<rect x="272.43" y="203.00" width="4.26" height="2.80" fill="#20c664"/>
<rect x="276.39" y="203.00" width="4.26" height="2.80" fill="#16b17a"/>
<rect x="280.34" y="203.00" width="4.26" height="2.80" fill="#129890"/>
<rect x="228.90" y="205.50" width="4.26" height="2.80" fill="#18809a"/>
<rect x="232.86" y="205.50" width="4.26" height="2.80" fill="#3f479a"/>
<rect x="236.81" y="205.50" width="4.26" height="2.80" fill="#4b2d8b"/>
<rect x="240.77" y="205.50" width="4.26" height="2.80" fill="#31599e"/>
<rect x="244.73" y="205.50" width="4.26" height="2.80" fill="#1c799c"/>
<rect x="248.69" y="205.50" width="4.26" height="2.80" fill="#236d9e"/>
<rect x="252.64" y="205.50" width="4.26" height="2.80" fill="#2a62a0"/>
<rect x="256.60" y="205.50" width="4.26" height="2.80" fill="#b4e01f"/>
<rect x="260.56" y="205.50" width="4.26" height="2.80" fill="#11a28a"/>
<rect x="264.51" y="205.50" width="4.26" height="2.80" fill="#dde41c"/>
<rect x="268.47" y="205.50" width="4.26" height="2.80" fill="#4a308e"/>
<rect x="272.43" y="205.50" width="4.26" height="2.80" fill="#a9df24"/>
<rect x="276.39" y="205.50" width="4.26" height="2.80" fill="#19b873"/>
<rect x="280.34" y="205.50" width="4.26" height="2.80" fill="#16b07c"/>
<rect x="228.90" y="208.00" width="4.26" height="2.80" fill="#3d4a9a"/>
<rect x="232.86" y="208.00" width="4.26" height="2.80" fill="#394e9c"/>
<rect x="236.81" y="208.00" width="4.26" height="2.80" fill="#473893"/>
<rect x="240.77" y="208.00" width="4.26" height="2.80" fill="#12998f"/>
<rect x="244.73" y="208.00" width="4.26" height="2.80" fill="#129890"/>
<rect x="248.69" y="208.00" width="4.26" height="2.80" fill="#197d9b"/>
<rect x="252.64" y="208.00" width="4.26" height="2.80" fill="#1e759c"/>
<rect x="256.60" y="208.00" width="4.26" height="2.80" fill="#13a982"/>
<rect x="260.56" y="208.00" width="4.26" height="2.80" fill="#246b9e"/>
<rect x="264.51" y="208.00" width="4.26" height="2.80" fill="#fae71a"/>
<rect x="268.47" y="208.00" width="4.26" height="2.80" fill="#4a308e"/>
<rect x="272.43" y="208.00" width="4.26" height="2.80" fill="#139193"/>
<rect x="276.39" y="208.00" width="4.26" height="2.80" fill="#44cf53"/>
<rect x="280.34" y="208.00" width="4.26" height="2.80" fill="#139392"/>
<rect x="228.90" y="210.50" width="4.26" height="2.80" fill="#158c95"/>
<rect x="232.86" y="210.50" width="4.26" height="2.80" fill="#483591"/>
<rect x="236.81" y="210.50" width="4.26" height="2.80" fill="#38509c"/>
<rect x="240.77" y="210.50" width="4.26" height="2.80" fill="#168598"/>
<rect x="244.73" y="210.50" width="4.26" height="2.80" fill="#246b9e"/>
<rect x="248.69" y="210.50" width="4.26" height="2.80" fill="#148c95"/>
<rect x="252.64" y="210.50" width="4.26" height="2.80" fill="#129690"/>
<rect x="256.60" y="210.50" width="4.26" height="2.80" fill="#27c761"/>
<rect x="260.56" y="210.50" width="4.26" height="2.80" fill="#119a8f"/>
<rect x="264.51" y="210.50" width="4.26" height="2.80" fill="#ffe81a"/>
<rect x="268.47" y="210.50" width="4.26" height="2.80" fill="#4a308e"/>
<rect x="272.43" y="210.50" width="4.26" height="2.80" fill="#1b7a9b"/>
<rect x="276.39" y="210.50" width="4.26" height="2.80" fill="#62d644"/>
<rect x="280.34" y="210.50" width="4.26" height="2.80" fill="#5cd447"/>
<rect x="228.90" y="213.00" width="4.26" height="2.80" fill="#1f759c"/>
<rect x="232.86" y="213.00" width="4.26" height="2.80" fill="#483591"/>
<rect x="236.81" y="213.00" width="4.26" height="2.80" fill="#4a065c"/>
<rect x="240.77" y="213.00" width="4.26" height="2.80" fill="#38cc59"/>
<rect x="244.73" y="213.00" width="4.26" height="2.80" fill="#246b9e"/>
<rect x="248.69" y="213.00" width="4.26" height="2.80" fill="#1f759c"/>
<rect x="252.64" y="213.00" width="4.26" height="2.80" fill="#236e9e"/>
<rect x="256.60" y="213.00" width="4.26" height="2.80" fill="#1bbe6d"/>
<rect x="260.56" y="213.00" width="4.26" height="2.80" fill="#1cc16a"/>
<rect x="264.51" y="213.00" width="4.26" height="2.80" fill="#e0e51c"/>
<rect x="268.47" y="213.00" width="4.26" height="2.80" fill="#4a308e"/>
<rect x="272.43" y="213.00" width="4.26" height="2.80" fill="#90dc2f"/>
<rect x="276.39" y="213.00" width="4.26" height="2.80" fill="#17b379"/>
<rect x="280.34" y="213.00" width="4.26" height="2.80" fill="#2bc95f"/>
<rect x="228.90" y="215.50" width="4.26" height="2.80" fill="#21709d"/>
<rect x="232.86" y="215.50" width="4.26" height="2.80" fill="#4e1b79"/>
<rect x="236.81" y="215.50" width="4.26" height="2.80" fill="#34559d"/>
<rect x="240.77" y="215.50" width="4.26" height="2.80" fill="#2d5e9f"/>
<rect x="244.73" y="215.50" width="4.26" height="2.80" fill="#35549d"/>
<rect x="248.69" y="215.50" width="4.26" height="2.80" fill="#4a308e"/>
<rect x="252.64" y="215.50" width="4.26" height="2.80" fill="#14aa82"/>
<rect x="256.60" y="215.50" width="4.26" height="2.80" fill="#11a389"/>
<rect x="260.56" y="215.50" width="4.26" height="2.80" fill="#16b07b"/>
<rect x="264.51" y="215.50" width="4.26" height="2.80" fill="#e4e51c"/>
<rect x="268.47" y="215.50" width="4.26" height="2.80" fill="#178399"/>
<rect x="272.43" y="215.50" width="4.26" height="2.80" fill="#1cc368"/>
<rect x="276.39" y="215.50" width="4.26" height="2.80" fill="#11a28a"/>
<rect x="280.34" y="215.50" width="4.26" height="2.80" fill="#119d8d"/>
<rect x="228.90" y="218.00" width="4.26" height="2.80" fill="#30ca5d"/>
<rect x="232.86" y="218.00" width="4.26" height="2.80" fill="#3e499a"/>
<rect x="236.81" y="218.00" width="4.26" height="2.80" fill="#4a318e"/>
<rect x="240.77" y="218.00" width="4.26" height="2.80" fill="#119a8f"/>
<rect x="244.73" y="218.00" width="4.26" height="2.80" fill="#197e9b"/>
<rect x="248.69" y="218.00" width="4.26" height="2.80" fill="#4a308e"/>
<rect x="252.64" y="218.00" width="4.26" height="2.80" fill="#17819a"/>
<rect x="256.60" y="218.00" width="4.26" height="2.80" fill="#55d34a"/>
<rect x="260.56" y="218.00" width="4.26" height="2.80" fill="#12a587"/>
<rect x="264.51" y="218.00" width="4.26" height="2.80" fill="#f0e61b"/>
<rect x="268.47" y="218.00" width="4.26" height="2.80" fill="#1abc6f"/>
<rect x="272.43" y="218.00" width="4.26" height="2.80" fill="#1dc467"/>
<rect x="276.39" y="218.00" width="4.26" height="2.80" fill="#1ec566"/>
<rect x="280.34" y="218.00" width="4.26" height="2.80" fill="#82da36"/>
<rect x="228.90" y="220.50" width="4.26" height="2.80" fill="#226e9e"/>
<rect x="232.86" y="220.50" width="4.26" height="2.80" fill="#21719d"/>
<rect x="236.81" y="220.50" width="4.26" height="2.80" fill="#4a308e"/>
<rect x="240.77" y="220.50" width="4.26" height="2.80" fill="#158996"/>
<rect x="244.73" y="220.50" width="4.26" height="2.80" fill="#158996"/>
<rect x="248.69" y="220.50" width="4.26" height="2.80" fill="#4a308e"/>
<rect x="252.64" y="220.50" width="4.26" height="2.80" fill="#1a7d9b"/>
<rect x="256.60" y="220.50" width="4.26" height="2.80" fill="#1bbf6c"/>
<rect x="260.56" y="220.50" width="4.26" height="2.80" fill="#17b477"/>
<rect x="264.51" y="220.50" width="4.26" height="2.80" fill="#eae61b"/>
<rect x="268.47" y="220.50" width="4.26" height="2.80" fill="#49d050"/>
<rect x="272.43" y="220.50" width="4.26" height="2.80" fill="#139193"/>
<rect x="276.39" y="220.50" width="4.26" height="2.80" fill="#129790"/>
<rect x="280.34" y="220.50" width="4.26" height="2.80" fill="#1dc467"/>
<rect x="228.90" y="223.00" width="4.26" height="2.80" fill="#27669f"/>
<rect x="232.86" y="223.00" width="4.26" height="2.80" fill="#483692"/>
<rect x="236.81" y="223.00" width="4.26" height="2.80" fill="#4a318f"/>
<rect x="240.77" y="223.00" width="4.26" height="2.80" fill="#4cd14f"/>
<rect x="244.73" y="223.00" width="4.26" height="2.80" fill="#109e8d"/>
<rect x="248.69" y="223.00" width="4.26" height="2.80" fill="#109e8d"/>
<rect x="252.64" y="223.00" width="4.26" height="2.80" fill="#31599e"/>
<rect x="256.60" y="223.00" width="4.26" height="2.80" fill="#168797"/>
<rect x="260.56" y="223.00" width="4.26" height="2.80" fill="#18b873"/>
<rect x="264.51" y="223.00" width="4.26" height="2.80" fill="#f6e71b"/>
<rect x="268.47" y="223.00" width="4.26" height="2.80" fill="#129790"/>
<rect x="272.43" y="223.00" width="4.26" height="2.80" fill="#22c663"/>
<rect x="276.39" y="223.00" width="4.26" height="2.80" fill="#70d83d"/>
<rect x="280.34" y="223.00" width="4.26" height="2.80" fill="#10a08c"/>
<rect x="228.90" y="225.50" width="4.26" height="2.80" fill="#158997"/>
<rect x="232.86" y="225.50" width="4.26" height="2.80" fill="#31589e"/>
<rect x="236.81" y="225.50" width="4.26" height="2.80" fill="#3c4b9b"/>
<rect x="240.77" y="225.50" width="4.26" height="2.80" fill="#226f9e"/>
<rect x="244.73" y="225.50" width="4.26" height="2.80" fill="#168499"/>
<rect x="248.69" y="225.50" width="4.26" height="2.80" fill="#168499"/>
<rect x="252.64" y="225.50" width="4.26" height="2.80" fill="#3c4a9b"/>
<rect x="256.60" y="225.50" width="4.26" height="2.80" fill="#54d34b"/>
<rect x="260.56" y="225.50" width="4.26" height="2.80" fill="#32ca5b"/>
<rect x="264.51" y="225.50" width="4.26" height="2.80" fill="#dbe41c"/>
<rect x="268.47" y="225.50" width="4.26" height="2.80" fill="#17b379"/>
<rect x="272.43" y="225.50" width="4.26" height="2.80" fill="#1cc369"/>
<rect x="276.39" y="225.50" width="4.26" height="2.80" fill="#25c762"/>
<rect x="280.34" y="225.50" width="4.26" height="2.80" fill="#39cc58"/>
<rect x="228.90" y="228.00" width="4.26" height="2.80" fill="#28669f"/>
<rect x="232.86" y="228.00" width="4.26" height="2.80" fill="#493591"/>
<rect x="236.81" y="228.00" width="4.26" height="2.80" fill="#463b95"/>
<rect x="240.77" y="228.00" width="4.26" height="2.80" fill="#2a62a0"/>
<rect x="244.73" y="228.00" width="4.26" height="2.80" fill="#1a7c9b"/>
<rect x="248.69" y="228.00" width="4.26" height="2.80" fill="#17819a"/>
<rect x="252.64" y="228.00" width="4.26" height="2.80" fill="#158997"/>
<rect x="256.60" y="228.00" width="4.26" height="2.80" fill="#119c8e"/>
<rect x="260.56" y="228.00" width="4.26" height="2.80" fill="#49d050"/>
<rect x="264.51" y="228.00" width="4.26" height="2.80" fill="#f4e71b"/>
<rect x="268.47" y="228.00" width="4.26" height="2.80" fill="#1dc467"/>
<rect x="272.43" y="228.00" width="4.26" height="2.80" fill="#1dc566"/>
<rect x="276.39" y="228.00" width="4.26" height="2.80" fill="#139392"/>
<rect x="280.34" y="228.00" width="4.26" height="2.80" fill="#148f94"/>
<rect x="228.90" y="230.50" width="4.26" height="2.80" fill="#148d95"/>
<rect x="232.86" y="230.50" width="4.26" height="2.80" fill="#4f2284"/>
<rect x="236.81" y="230.50" width="4.26" height="2.80" fill="#4a308d"/>
<rect x="240.77" y="230.50" width="4.26" height="2.80" fill="#139292"/>
<rect x="244.73" y="230.50" width="4.26" height="2.80" fill="#17809a"/>
<rect x="248.69" y="230.50" width="4.26" height="2.80" fill="#17819a"/>
<rect x="252.64" y="230.50" width="4.26" height="2.80" fill="#1c799c"/>
<rect x="256.60" y="230.50" width="4.26" height="2.80" fill="#3ccd57"/>
<rect x="260.56" y="230.50" width="4.26" height="2.80" fill="#51d24c"/>
<rect x="264.51" y="230.50" width="4.26" height="2.80" fill="#dee41c"/>
<rect x="268.47" y="230.50" width="4.26" height="2.80" fill="#119b8e"/>
<rect x="272.43" y="230.50" width="4.26" height="2.80" fill="#18b675"/>
<rect x="276.39" y="230.50" width="4.26" height="2.80" fill="#17b477"/>
<rect x="280.34" y="230.50" width="4.26" height="2.80" fill="#a3de27"/>
<rect x="228.90" y="233.00" width="4.26" height="2.80" fill="#1a7d9b"/>
<rect x="232.86" y="233.00" width="4.26" height="2.80" fill="#38509c"/>
<rect x="236.81" y="233.00" width="4.26" height="2.80" fill="#4a318e"/>
<rect x="240.77" y="233.00" width="4.26" height="2.80" fill="#27679f"/>
<rect x="244.73" y="233.00" width="4.26" height="2.80" fill="#17829a"/>
<rect x="248.69" y="233.00" width="4.26" height="2.80" fill="#38509c"/>
<rect x="252.64" y="233.00" width="4.26" height="2.80" fill="#129890"/>
<rect x="256.60" y="233.00" width="4.26" height="2.80" fill="#13a884"/>
<rect x="260.56" y="233.00" width="4.26" height="2.80" fill="#32ca5c"/>
<rect x="264.51" y="233.00" width="4.26" height="2.80" fill="#efe61b"/>
<rect x="268.47" y="233.00" width="4.26" height="2.80" fill="#13a982"/>
<rect x="272.43" y="233.00" width="4.26" height="2.80" fill="#109f8d"/>
<rect x="276.39" y="233.00" width="4.26" height="2.80" fill="#1cc269"/>
<rect x="280.34" y="233.00" width="4.26" height="2.80" fill="#168499"/>
<rect x="228.90" y="235.50" width="4.26" height="2.80" fill="#226f9d"/>
<rect x="232.86" y="235.50" width="4.26" height="2.80" fill="#3d4a9a"/>
<rect x="236.81" y="235.50" width="4.26" height="2.80" fill="#453f98"/>
<rect x="240.77" y="235.50" width="4.26" height="2.80" fill="#22709d"/>
<rect x="244.73" y="235.50" width="4.26" height="2.80" fill="#148d94"/>
<rect x="248.69" y="235.50" width="4.26" height="2.80" fill="#38509c"/>
<rect x="252.64" y="235.50" width="4.26" height="2.80" fill="#226f9e"/>
<rect x="256.60" y="235.50" width="4.26" height="2.80" fill="#96dc2d"/>
<rect x="260.56" y="235.50" width="4.26" height="2.80" fill="#119e8d"/>
<rect x="264.51" y="235.50" width="4.26" height="2.80" fill="#f7e71b"/>
<rect x="268.47" y="235.50" width="4.26" height="2.80" fill="#158c95"/>
<rect x="272.43" y="235.50" width="4.26" height="2.80" fill="#28c860"/>
<rect x="276.39" y="235.50" width="4.26" height="2.80" fill="#1dc467"/>
<rect x="280.34" y="235.50" width="4.26" height="2.80" fill="#14ad7f"/>
<rect x="228.90" y="238.00" width="4.26" height="2.80" fill="#1f739d"/>
<rect x="232.86" y="238.00" width="4.26" height="2.80" fill="#424399"/>
<rect x="236.81" y="238.00" width="4.26" height="2.80" fill="#453f98"/>
<rect x="240.77" y="238.00" width="4.26" height="2.80" fill="#168897"/>
<rect x="244.73" y="238.00" width="4.26" height="2.80" fill="#3a4e9b"/>
<rect x="248.69" y="238.00" width="4.26" height="2.80" fill="#38509c"/>
<rect x="252.64" y="238.00" width="4.26" height="2.80" fill="#14ab80"/>
<rect x="256.60" y="238.00" width="4.26" height="2.80" fill="#dae41c"/>
<rect x="260.56" y="238.00" width="4.26" height="2.80" fill="#92dc2e"/>
<rect x="264.51" y="238.00" width="4.26" height="2.80" fill="#16b17a"/>
<rect x="268.47" y="238.00" width="4.26" height="2.80" fill="#13a883"/>
<rect x="272.43" y="238.00" width="4.26" height="2.80" fill="#1dc566"/>
<rect x="276.39" y="238.00" width="4.26" height="2.80" fill="#59d448"/>
<rect x="280.34" y="238.00" width="4.26" height="2.80" fill="#119d8d"/>
<rect x="228.90" y="240.50" width="4.26" height="2.80" fill="#17b477"/>
<rect x="232.86" y="240.50" width="4.26" height="2.80" fill="#148d94"/>
<rect x="236.81" y="240.50" width="4.26" height="2.80" fill="#226e9e"/>
<rect x="240.77" y="240.50" width="4.26" height="2.80" fill="#12998f"/>
<rect x="244.73" y="240.50" width="4.26" height="2.80" fill="#1b7b9b"/>
<rect x="248.69" y="240.50" width="4.26" height="2.80" fill="#38509c"/>
<rect x="252.64" y="240.50" width="4.26" height="2.80" fill="#119d8d"/>
<rect x="256.60" y="240.50" width="4.26" height="2.80" fill="#17b379"/>
<rect x="260.56" y="240.50" width="4.26" height="2.80" fill="#168698"/>
<rect x="264.51" y="240.50" width="4.26" height="2.80" fill="#7bd939"/>
<rect x="268.47" y="240.50" width="4.26" height="2.80" fill="#ffe81a"/>
<rect x="272.43" y="240.50" width="4.26" height="2.80" fill="#6dd73f"/>
<rect x="276.39" y="240.50" width="4.26" height="2.80" fill="#19bb71"/>
<rect x="280.34" y="240.50" width="4.26" height="2.80" fill="#33ca5b"/>
<rect x="228.90" y="243.00" width="4.26" height="2.80" fill="#119d8d"/>
<rect x="232.86" y="243.00" width="4.26" height="2.80" fill="#394e9b"/>
<rect x="236.81" y="243.00" width="4.26" height="2.80" fill="#1b7b9b"/>
<rect x="240.77" y="243.00" width="4.26" height="2.80" fill="#f0e61b"/>
<rect x="244.73" y="243.00" width="4.26" height="2.80" fill="#27679f"/>
<rect x="248.69" y="243.00" width="4.26" height="2.80" fill="#38509c"/>
<rect x="252.64" y="243.00" width="4.26" height="2.80" fill="#129691"/>
<rect x="256.60" y="243.00" width="4.26" height="2.80" fill="#13a884"/>
<rect x="260.56" y="243.00" width="4.26" height="2.80" fill="#158897"/>
<rect x="264.51" y="243.00" width="4.26" height="2.80" fill="#5ed546"/>
<rect x="268.47" y="243.00" width="4.26" height="2.80" fill="#ffe81a"/>
<rect x="272.43" y="243.00" width="4.26" height="2.80" fill="#19b972"/>
<rect x="276.39" y="243.00" width="4.26" height="2.80" fill="#8bdb32"/>
<rect x="280.34" y="243.00" width="4.26" height="2.80" fill="#168399"/>
<rect x="228.90" y="245.50" width="4.26" height="2.80" fill="#148c95"/>
<rect x="232.86" y="245.50" width="4.26" height="2.80" fill="#168698"/>
<rect x="236.81" y="245.50" width="4.26" height="2.80" fill="#29c860"/>
<rect x="240.77" y="245.50" width="4.26" height="2.80" fill="#109f8d"/>
<rect x="244.73" y="245.50" width="4.26" height="2.80" fill="#17829a"/>
<rect x="248.69" y="245.50" width="4.26" height="2.80" fill="#1abc6f"/>
<rect x="252.64" y="245.50" width="4.26" height="2.80" fill="#119b8e"/>
<rect x="256.60" y="245.50" width="4.26" height="2.80" fill="#10a08c"/>
<rect x="260.56" y="245.50" width="4.26" height="2.80" fill="#12a785"/>
<rect x="264.51" y="245.50" width="4.26" height="2.80" fill="#9fdd29"/>
<rect x="268.47" y="245.50" width="4.26" height="2.80" fill="#ffe81a"/>
<rect x="272.43" y="245.50" width="4.26" height="2.80" fill="#10a18b"/>
<rect x="276.39" y="245.50" width="4.26" height="2.80" fill="#14ac7f"/>
<rect x="280.34" y="245.50" width="4.26" height="2.80" fill="#129890"/>
<rect x="228.90" y="248.00" width="4.26" height="2.80" fill="#168499"/>
<rect x="232.86" y="248.00" width="4.26" height="2.80" fill="#168797"/>
<rect x="236.81" y="248.00" width="4.26" height="2.80" fill="#168797"/>
<rect x="240.77" y="248.00" width="4.26" height="2.80" fill="#463b95"/>
<rect x="244.73" y="248.00" width="4.26" height="2.80" fill="#37519c"/>
<rect x="248.69" y="248.00" width="4.26" height="2.80" fill="#3d4a9b"/>
<rect x="252.64" y="248.00" width="4.26" height="2.80" fill="#119a8e"/>
<rect x="256.60" y="248.00" width="4.26" height="2.80" fill="#18b675"/>
<rect x="260.56" y="248.00" width="4.26" height="2.80" fill="#256a9e"/>
<rect x="264.51" y="248.00" width="4.26" height="2.80" fill="#1bbf6c"/>
<rect x="268.47" y="248.00" width="4.26" height="2.80" fill="#ffe81a"/>
<rect x="272.43" y="248.00" width="4.26" height="2.80" fill="#13a983"/>
<rect x="276.39" y="248.00" width="4.26" height="2.80" fill="#16b279"/>
<rect x="280.34" y="248.00" width="4.26" height="2.80" fill="#3ccd57"/>
</g>
<text x="258.50" y="192.50" font-size="4.10" font-weight="bold" text-anchor="middle" fill="#000" textLength="29.5" lengthAdjust="spacingAndGlyphs">ROS by NFE2L2</text>
<path d="M227.6,198.5 V247.5 M226.4,205.5 V238.5 M227.6,198.5 H228.9 M227.6,247.5 H228.9 M226.4,223.0 H227.6" stroke="#999" stroke-width="0.3" fill="none"/>
<text x="285.40" y="70.30" font-size="3.60" font-weight="normal" text-anchor="start" fill="#444">ATG12</text>
<text x="285.40" y="74.40" font-size="3.60" font-weight="normal" text-anchor="start" fill="#444">ATG5</text>
<text x="285.40" y="83.50" font-size="3.60" font-weight="bold" text-anchor="start" fill="#111">SQSTM1</text>
<text x="285.40" y="87.60" font-size="3.60" font-weight="normal" text-anchor="start" fill="#444">TOMM40</text>
<text x="285.40" y="92.10" font-size="3.60" font-weight="bold" text-anchor="start" fill="#111">LC3</text>
<text x="285.40" y="96.20" font-size="3.60" font-weight="normal" text-anchor="start" fill="#444">VDAC1</text>
<text x="285.40" y="104.60" font-size="3.60" font-weight="normal" text-anchor="start" fill="#444">UBA52</text>
<rect x="286.3" y="131" width="14.6" height="23" fill="#fff" stroke="#333" stroke-width="0.4"/>
<text x="287.00" y="135.30" font-size="3.50" font-weight="bold" text-anchor="start" fill="#111">APOOL</text>
<text x="287.00" y="139.60" font-size="3.50" font-weight="bold" text-anchor="start" fill="#111">MFN2</text>
<text x="287.00" y="143.90" font-size="3.50" font-weight="bold" text-anchor="start" fill="#111">DNM1L</text>
<text x="287.00" y="148.20" font-size="3.50" font-weight="bold" text-anchor="start" fill="#111">CLUH</text>
<text x="287.00" y="152.50" font-size="3.50" font-weight="bold" text-anchor="start" fill="#111">MFN1</text>
<path d="M284.3,133 L286.3,131.5 M284.3,157 L286.3,154" stroke="#333" stroke-width="0.3"/>
<text x="287.60" y="161.40" font-size="2.70" font-weight="normal" text-anchor="start" fill="#333">Z-score</text>
<rect x="287.6" y="163.2" width="4.4" height="16.5" fill="url(#vir)"/>
<text x="293.00" y="165.60" font-size="2.40" font-weight="normal" text-anchor="start" fill="#444">2</text>
<text x="293.00" y="169.30" font-size="2.40" font-weight="normal" text-anchor="start" fill="#444">1</text>
<text x="293.00" y="173.00" font-size="2.40" font-weight="normal" text-anchor="start" fill="#444">0</text>
<text x="293.00" y="176.70" font-size="2.40" font-weight="normal" text-anchor="start" fill="#444">-1</text>
<text x="293.00" y="180.40" font-size="2.40" font-weight="normal" text-anchor="start" fill="#444">-2</text>
<text x="285.40" y="204.40" font-size="3.60" font-weight="normal" text-anchor="start" fill="#444">UBA52</text>
<text x="285.40" y="209.50" font-size="3.60" font-weight="normal" text-anchor="start" fill="#444">CUL3</text>
<text x="285.40" y="217.60" font-size="3.60" font-weight="normal" text-anchor="start" fill="#444">PSMD4</text>
<text x="285.40" y="232.20" font-size="3.60" font-weight="bold" text-anchor="start" fill="#111">PSMB4</text>
<text x="285.40" y="236.00" font-size="3.60" font-weight="bold" text-anchor="start" fill="#111">PSMA1</text>
<text x="5.50" y="268.50" font-size="9.70" font-weight="bold" text-anchor="start" fill="#000">B</text>
<rect x="4.9" y="274.3" width="299.1" height="178.8" rx="1.2" fill="#fff" stroke="#333" stroke-width="1"/>
<text x="91.50" y="285.90" font-size="10.20" font-weight="bold" text-anchor="middle" fill="#000" textLength="87.5" lengthAdjust="spacingAndGlyphs">Base Excision Repair</text>
<text x="227.80" y="285.80" font-size="10.40" font-weight="bold" text-anchor="middle" fill="#000" textLength="79.0" lengthAdjust="spacingAndGlyphs">Thiol-based Redox</text>
<rect x="35.9" y="290.6" width="56.6" height="7.3" fill="#7da0d3"/>
<rect x="92.5" y="290.6" width="56.5" height="7.3" fill="#ee2a24"/>
<text x="64.20" y="296.30" font-size="5.70" font-weight="normal" text-anchor="middle" fill="#fff" textLength="22.5" lengthAdjust="spacingAndGlyphs">Wild Type</text>
<text x="119.25" y="296.30" font-size="5.70" font-weight="normal" text-anchor="middle" fill="#fff" textLength="36.0" lengthAdjust="spacingAndGlyphs">MYH7 R403Q+/-</text>
<g shape-rendering="crispEdges">
<rect x="35.90" y="297.90" width="8.37" height="18.93" fill="#20729d"/>
<rect x="43.97" y="297.90" width="8.37" height="18.93" fill="#2a62a0"/>
<rect x="52.04" y="297.90" width="8.37" height="18.93" fill="#40ce55"/>
<rect x="60.11" y="297.90" width="8.37" height="18.93" fill="#10a08c"/>
<rect x="68.19" y="297.90" width="8.37" height="18.93" fill="#62d644"/>
<rect x="76.26" y="297.90" width="8.37" height="18.93" fill="#1dc566"/>
<rect x="84.33" y="297.90" width="8.37" height="18.93" fill="#10a08c"/>
<rect x="92.40" y="297.90" width="8.37" height="18.93" fill="#2a62a0"/>
<rect x="100.47" y="297.90" width="8.37" height="18.93" fill="#453f98"/>
<rect x="108.54" y="297.90" width="8.37" height="18.93" fill="#4a308e"/>
<rect x="116.61" y="297.90" width="8.37" height="18.93" fill="#453f98"/>
<rect x="124.69" y="297.90" width="8.37" height="18.93" fill="#4a0458"/>
<rect x="132.76" y="297.90" width="8.37" height="18.93" fill="#17819a"/>
<rect x="140.83" y="297.90" width="8.37" height="18.93" fill="#11a488"/>
<rect x="35.90" y="316.52" width="8.37" height="18.93" fill="#10a08c"/>
<rect x="43.97" y="316.52" width="8.37" height="18.93" fill="#40ce55"/>
<rect x="52.04" y="316.52" width="8.37" height="18.93" fill="#10a08c"/>
<rect x="60.11" y="316.52" width="8.37" height="18.93" fill="#10a08c"/>
<rect x="68.19" y="316.52" width="8.37" height="18.93" fill="#16b279"/>
<rect x="76.26" y="316.52" width="8.37" height="18.93" fill="#62d644"/>
<rect x="84.33" y="316.52" width="8.37" height="18.93" fill="#16b279"/>
<rect x="92.40" y="316.52" width="8.37" height="18.93" fill="#4a308e"/>
<rect x="100.47" y="316.52" width="8.37" height="18.93" fill="#149093"/>
<rect x="108.54" y="316.52" width="8.37" height="18.93" fill="#4a308e"/>
<rect x="116.61" y="316.52" width="8.37" height="18.93" fill="#2a62a0"/>
<rect x="124.69" y="316.52" width="8.37" height="18.93" fill="#453f98"/>
<rect x="132.76" y="316.52" width="8.37" height="18.93" fill="#4c136e"/>
<rect x="140.83" y="316.52" width="8.37" height="18.93" fill="#13a784"/>
<rect x="35.90" y="335.15" width="8.37" height="18.93" fill="#10a08c"/>
<rect x="43.97" y="335.15" width="8.37" height="18.93" fill="#f0e61b"/>
<rect x="52.04" y="335.15" width="8.37" height="18.93" fill="#16b279"/>
<rect x="60.11" y="335.15" width="8.37" height="18.93" fill="#2a62a0"/>
<rect x="68.19" y="335.15" width="8.37" height="18.93" fill="#10a08c"/>
<rect x="76.26" y="335.15" width="8.37" height="18.93" fill="#62d644"/>
<rect x="84.33" y="335.15" width="8.37" height="18.93" fill="#16b279"/>
<rect x="92.40" y="335.15" width="8.37" height="18.93" fill="#149093"/>
<rect x="100.47" y="335.15" width="8.37" height="18.93" fill="#2a62a0"/>
<rect x="108.54" y="335.15" width="8.37" height="18.93" fill="#20729d"/>
<rect x="116.61" y="335.15" width="8.37" height="18.93" fill="#4c136e"/>
<rect x="124.69" y="335.15" width="8.37" height="18.93" fill="#2a62a0"/>
<rect x="132.76" y="335.15" width="8.37" height="18.93" fill="#17819a"/>
<rect x="140.83" y="335.15" width="8.37" height="18.93" fill="#119d8d"/>
<rect x="35.90" y="353.77" width="8.37" height="18.93" fill="#2a62a0"/>
<rect x="43.97" y="353.77" width="8.37" height="18.93" fill="#ffe81a"/>
<rect x="52.04" y="353.77" width="8.37" height="18.93" fill="#10a08c"/>
<rect x="60.11" y="353.77" width="8.37" height="18.93" fill="#20729d"/>
<rect x="68.19" y="353.77" width="8.37" height="18.93" fill="#16b279"/>
<rect x="76.26" y="353.77" width="8.37" height="18.93" fill="#40ce55"/>
<rect x="84.33" y="353.77" width="8.37" height="18.93" fill="#40ce55"/>
<rect x="92.40" y="353.77" width="8.37" height="18.93" fill="#4c136e"/>
<rect x="100.47" y="353.77" width="8.37" height="18.93" fill="#2a62a0"/>
<rect x="108.54" y="353.77" width="8.37" height="18.93" fill="#17819a"/>
<rect x="116.61" y="353.77" width="8.37" height="18.93" fill="#4a308e"/>
<rect x="124.69" y="353.77" width="8.37" height="18.93" fill="#17819a"/>
<rect x="132.76" y="353.77" width="8.37" height="18.93" fill="#4a308e"/>
<rect x="140.83" y="353.77" width="8.37" height="18.93" fill="#149093"/>
<rect x="35.90" y="372.40" width="8.37" height="18.93" fill="#16b279"/>
<rect x="43.97" y="372.40" width="8.37" height="18.93" fill="#b4e01f"/>
<rect x="52.04" y="372.40" width="8.37" height="18.93" fill="#8bdb32"/>
<rect x="60.11" y="372.40" width="8.37" height="18.93" fill="#1dc566"/>
<rect x="68.19" y="372.40" width="8.37" height="18.93" fill="#1dc566"/>
<rect x="76.26" y="372.40" width="8.37" height="18.93" fill="#16b279"/>
<rect x="84.33" y="372.40" width="8.37" height="18.93" fill="#20729d"/>
<rect x="92.40" y="372.40" width="8.37" height="18.93" fill="#4f2284"/>
<rect x="100.47" y="372.40" width="8.37" height="18.93" fill="#149093"/>
<rect x="108.54" y="372.40" width="8.37" height="18.93" fill="#38509c"/>
<rect x="116.61" y="372.40" width="8.37" height="18.93" fill="#149093"/>
<rect x="124.69" y="372.40" width="8.37" height="18.93" fill="#4a0458"/>
<rect x="132.76" y="372.40" width="8.37" height="18.93" fill="#4a308e"/>
<rect x="140.83" y="372.40" width="8.37" height="18.93" fill="#20729d"/>
<rect x="35.90" y="391.02" width="8.37" height="18.93" fill="#10a08c"/>
<rect x="43.97" y="391.02" width="8.37" height="18.93" fill="#ffe81a"/>
<rect x="52.04" y="391.02" width="8.37" height="18.93" fill="#1dc566"/>
<rect x="60.11" y="391.02" width="8.37" height="18.93" fill="#1dc566"/>
<rect x="68.19" y="391.02" width="8.37" height="18.93" fill="#1dc566"/>
<rect x="76.26" y="391.02" width="8.37" height="18.93" fill="#10a08c"/>
<rect x="84.33" y="391.02" width="8.37" height="18.93" fill="#17819a"/>
<rect x="92.40" y="391.02" width="8.37" height="18.93" fill="#17819a"/>
<rect x="100.47" y="391.02" width="8.37" height="18.93" fill="#16b279"/>
<rect x="108.54" y="391.02" width="8.37" height="18.93" fill="#4c136e"/>
<rect x="116.61" y="391.02" width="8.37" height="18.93" fill="#2a62a0"/>
<rect x="124.69" y="391.02" width="8.37" height="18.93" fill="#2a62a0"/>
<rect x="132.76" y="391.02" width="8.37" height="18.93" fill="#4f2284"/>
<rect x="140.83" y="391.02" width="8.37" height="18.93" fill="#20729d"/>
<rect x="35.90" y="409.65" width="8.37" height="18.93" fill="#10a08c"/>
<rect x="43.97" y="409.65" width="8.37" height="18.93" fill="#dae41c"/>
<rect x="52.04" y="409.65" width="8.37" height="18.93" fill="#2a62a0"/>
<rect x="60.11" y="409.65" width="8.37" height="18.93" fill="#62d644"/>
<rect x="68.19" y="409.65" width="8.37" height="18.93" fill="#40ce55"/>
<rect x="76.26" y="409.65" width="8.37" height="18.93" fill="#16b279"/>
<rect x="84.33" y="409.65" width="8.37" height="18.93" fill="#10a08c"/>
<rect x="92.40" y="409.65" width="8.37" height="18.93" fill="#2a62a0"/>
<rect x="100.47" y="409.65" width="8.37" height="18.93" fill="#149093"/>
<rect x="108.54" y="409.65" width="8.37" height="18.93" fill="#4f2284"/>
<rect x="116.61" y="409.65" width="8.37" height="18.93" fill="#149093"/>
<rect x="124.69" y="409.65" width="8.37" height="18.93" fill="#2a62a0"/>
<rect x="132.76" y="409.65" width="8.37" height="18.93" fill="#4c136e"/>
<rect x="140.83" y="409.65" width="8.37" height="18.93" fill="#17819a"/>
<rect x="35.90" y="428.27" width="8.37" height="18.93" fill="#149093"/>
<rect x="43.97" y="428.27" width="8.37" height="18.93" fill="#8bdb32"/>
<rect x="52.04" y="428.27" width="8.37" height="18.93" fill="#40ce55"/>
<rect x="60.11" y="428.27" width="8.37" height="18.93" fill="#40ce55"/>
<rect x="68.19" y="428.27" width="8.37" height="18.93" fill="#62d644"/>
<rect x="76.26" y="428.27" width="8.37" height="18.93" fill="#16b279"/>
<rect x="84.33" y="428.27" width="8.37" height="18.93" fill="#10a08c"/>
<rect x="92.40" y="428.27" width="8.37" height="18.93" fill="#2a62a0"/>
<rect x="100.47" y="428.27" width="8.37" height="18.93" fill="#20729d"/>
<rect x="108.54" y="428.27" width="8.37" height="18.93" fill="#4c136e"/>
<rect x="116.61" y="428.27" width="8.37" height="18.93" fill="#17819a"/>
<rect x="124.69" y="428.27" width="8.37" height="18.93" fill="#453f98"/>
<rect x="132.76" y="428.27" width="8.37" height="18.93" fill="#4a308e"/>
<rect x="140.83" y="428.27" width="8.37" height="18.93" fill="#20729d"/>
</g>
<text x="149.80" y="308.72" font-size="3.60" font-weight="normal" text-anchor="start" fill="#444">POLD3</text>
<text x="149.80" y="327.36" font-size="3.60" font-weight="bold" text-anchor="start" fill="#111">XRCC1</text>
<text x="149.80" y="345.99" font-size="3.60" font-weight="bold" text-anchor="start" fill="#111">PARP1</text>
<text x="149.80" y="364.63" font-size="3.60" font-weight="normal" text-anchor="start" fill="#444">RFC1</text>
<text x="149.80" y="383.27" font-size="3.60" font-weight="normal" text-anchor="start" fill="#444">PARP2</text>
<text x="149.80" y="401.91" font-size="3.60" font-weight="bold" text-anchor="start" fill="#111">LIG3</text>
<text x="149.80" y="420.54" font-size="3.60" font-weight="bold" text-anchor="start" fill="#111">NTHL1</text>
<text x="149.80" y="439.18" font-size="3.60" font-weight="normal" text-anchor="start" fill="#444">POLB</text>
<rect x="171.5" y="291.3" width="56.4" height="6.4" fill="#7da0d3"/>
<rect x="227.9" y="291.3" width="56.3" height="6.4" fill="#ee2a24"/>
<text x="199.70" y="296.44" font-size="5.40" font-weight="normal" text-anchor="middle" fill="#fff" textLength="23.0" lengthAdjust="spacingAndGlyphs">Wild Type</text>
<text x="255.25" y="296.44" font-size="5.40" font-weight="normal" text-anchor="middle" fill="#fff" textLength="36.0" lengthAdjust="spacingAndGlyphs">MYH7 R403Q+/-</text>
<g shape-rendering="crispEdges">
<rect x="171.50" y="298.00" width="8.35" height="10.22" fill="#149093"/>
<rect x="179.55" y="298.00" width="8.35" height="10.22" fill="#1dc566"/>
<rect x="187.60" y="298.00" width="8.35" height="10.22" fill="#8bdb32"/>
<rect x="195.65" y="298.00" width="8.35" height="10.22" fill="#10a08c"/>
<rect x="203.70" y="298.00" width="8.35" height="10.22" fill="#10a08c"/>
<rect x="211.75" y="298.00" width="8.35" height="10.22" fill="#16b279"/>
<rect x="219.80" y="298.00" width="8.35" height="10.22" fill="#1dc566"/>
<rect x="227.85" y="298.00" width="8.35" height="10.22" fill="#4c136e"/>
<rect x="235.90" y="298.00" width="8.35" height="10.22" fill="#2a62a0"/>
<rect x="243.95" y="298.00" width="8.35" height="10.22" fill="#20729d"/>
<rect x="252.00" y="298.00" width="8.35" height="10.22" fill="#20729d"/>
<rect x="260.05" y="298.00" width="8.35" height="10.22" fill="#38509c"/>
<rect x="268.10" y="298.00" width="8.35" height="10.22" fill="#4c136e"/>
<rect x="276.15" y="298.00" width="8.35" height="10.22" fill="#2a62a0"/>
<rect x="171.50" y="307.92" width="8.35" height="10.22" fill="#10a08c"/>
<rect x="179.55" y="307.92" width="8.35" height="10.22" fill="#ffe81a"/>
<rect x="187.60" y="307.92" width="8.35" height="10.22" fill="#40ce55"/>
<rect x="195.65" y="307.92" width="8.35" height="10.22" fill="#10a08c"/>
<rect x="203.70" y="307.92" width="8.35" height="10.22" fill="#10a08c"/>
<rect x="211.75" y="307.92" width="8.35" height="10.22" fill="#17819a"/>
<rect x="219.80" y="307.92" width="8.35" height="10.22" fill="#16b279"/>
<rect x="227.85" y="307.92" width="8.35" height="10.22" fill="#4f2284"/>
<rect x="235.90" y="307.92" width="8.35" height="10.22" fill="#453f98"/>
<rect x="243.95" y="307.92" width="8.35" height="10.22" fill="#2a62a0"/>
<rect x="252.00" y="307.92" width="8.35" height="10.22" fill="#20729d"/>
<rect x="260.05" y="307.92" width="8.35" height="10.22" fill="#38509c"/>
<rect x="268.10" y="307.92" width="8.35" height="10.22" fill="#4a308e"/>
<rect x="276.15" y="307.92" width="8.35" height="10.22" fill="#38509c"/>
<rect x="171.50" y="317.84" width="8.35" height="10.22" fill="#10a08c"/>
<rect x="179.55" y="317.84" width="8.35" height="10.22" fill="#ffe81a"/>
<rect x="187.60" y="317.84" width="8.35" height="10.22" fill="#8bdb32"/>
<rect x="195.65" y="317.84" width="8.35" height="10.22" fill="#10a08c"/>
<rect x="203.70" y="317.84" width="8.35" height="10.22" fill="#10a08c"/>
<rect x="211.75" y="317.84" width="8.35" height="10.22" fill="#10a08c"/>
<rect x="219.80" y="317.84" width="8.35" height="10.22" fill="#16b279"/>
<rect x="227.85" y="317.84" width="8.35" height="10.22" fill="#453f98"/>
<rect x="235.90" y="317.84" width="8.35" height="10.22" fill="#2a62a0"/>
<rect x="243.95" y="317.84" width="8.35" height="10.22" fill="#20729d"/>
<rect x="252.00" y="317.84" width="8.35" height="10.22" fill="#2a62a0"/>
<rect x="260.05" y="317.84" width="8.35" height="10.22" fill="#453f98"/>
<rect x="268.10" y="317.84" width="8.35" height="10.22" fill="#453f98"/>
<rect x="276.15" y="317.84" width="8.35" height="10.22" fill="#38509c"/>
<rect x="171.50" y="327.76" width="8.35" height="10.22" fill="#10a08c"/>
<rect x="179.55" y="327.76" width="8.35" height="10.22" fill="#dae41c"/>
<rect x="187.60" y="327.76" width="8.35" height="10.22" fill="#40ce55"/>
<rect x="195.65" y="327.76" width="8.35" height="10.22" fill="#10a08c"/>
<rect x="203.70" y="327.76" width="8.35" height="10.22" fill="#10a08c"/>
<rect x="211.75" y="327.76" width="8.35" height="10.22" fill="#149093"/>
<rect x="219.80" y="327.76" width="8.35" height="10.22" fill="#10a08c"/>
<rect x="227.85" y="327.76" width="8.35" height="10.22" fill="#38509c"/>
<rect x="235.90" y="327.76" width="8.35" height="10.22" fill="#2a62a0"/>
<rect x="243.95" y="327.76" width="8.35" height="10.22" fill="#2a62a0"/>
<rect x="252.00" y="327.76" width="8.35" height="10.22" fill="#2a62a0"/>
<rect x="260.05" y="327.76" width="8.35" height="10.22" fill="#453f98"/>
<rect x="268.10" y="327.76" width="8.35" height="10.22" fill="#4c136e"/>
<rect x="276.15" y="327.76" width="8.35" height="10.22" fill="#38509c"/>
<rect x="171.50" y="337.68" width="8.35" height="10.22" fill="#16b279"/>
<rect x="179.55" y="337.68" width="8.35" height="10.22" fill="#ffe81a"/>
<rect x="187.60" y="337.68" width="8.35" height="10.22" fill="#1dc566"/>
<rect x="195.65" y="337.68" width="8.35" height="10.22" fill="#10a08c"/>
<rect x="203.70" y="337.68" width="8.35" height="10.22" fill="#10a08c"/>
<rect x="211.75" y="337.68" width="8.35" height="10.22" fill="#17819a"/>
<rect x="219.80" y="337.68" width="8.35" height="10.22" fill="#149093"/>
<rect x="227.85" y="337.68" width="8.35" height="10.22" fill="#20729d"/>
<rect x="235.90" y="337.68" width="8.35" height="10.22" fill="#2a62a0"/>
<rect x="243.95" y="337.68" width="8.35" height="10.22" fill="#453f98"/>
<rect x="252.00" y="337.68" width="8.35" height="10.22" fill="#453f98"/>
<rect x="260.05" y="337.68" width="8.35" height="10.22" fill="#2a62a0"/>
<rect x="268.10" y="337.68" width="8.35" height="10.22" fill="#453f98"/>
<rect x="276.15" y="337.68" width="8.35" height="10.22" fill="#2a62a0"/>
<rect x="171.50" y="347.60" width="8.35" height="10.22" fill="#10a08c"/>
<rect x="179.55" y="347.60" width="8.35" height="10.22" fill="#93dc2e"/>
<rect x="187.60" y="347.60" width="8.35" height="10.22" fill="#cbe21d"/>
<rect x="195.65" y="347.60" width="8.35" height="10.22" fill="#16b279"/>
<rect x="203.70" y="347.60" width="8.35" height="10.22" fill="#10a08c"/>
<rect x="211.75" y="347.60" width="8.35" height="10.22" fill="#10a08c"/>
<rect x="219.80" y="347.60" width="8.35" height="10.22" fill="#149093"/>
<rect x="227.85" y="347.60" width="8.35" height="10.22" fill="#20729d"/>
<rect x="235.90" y="347.60" width="8.35" height="10.22" fill="#2a62a0"/>
<rect x="243.95" y="347.60" width="8.35" height="10.22" fill="#4c136e"/>
<rect x="252.00" y="347.60" width="8.35" height="10.22" fill="#10a08c"/>
<rect x="260.05" y="347.60" width="8.35" height="10.22" fill="#38509c"/>
<rect x="268.10" y="347.60" width="8.35" height="10.22" fill="#453f98"/>
<rect x="276.15" y="347.60" width="8.35" height="10.22" fill="#2a62a0"/>
<rect x="171.50" y="357.52" width="8.35" height="10.22" fill="#20729d"/>
<rect x="179.55" y="357.52" width="8.35" height="10.22" fill="#17819a"/>
<rect x="187.60" y="357.52" width="8.35" height="10.22" fill="#10a08c"/>
<rect x="195.65" y="357.52" width="8.35" height="10.22" fill="#149093"/>
<rect x="203.70" y="357.52" width="8.35" height="10.22" fill="#10a08c"/>
<rect x="211.75" y="357.52" width="8.35" height="10.22" fill="#62d644"/>
<rect x="219.80" y="357.52" width="8.35" height="10.22" fill="#ffe81a"/>
<rect x="227.85" y="357.52" width="8.35" height="10.22" fill="#38509c"/>
<rect x="235.90" y="357.52" width="8.35" height="10.22" fill="#2a62a0"/>
<rect x="243.95" y="357.52" width="8.35" height="10.22" fill="#2a62a0"/>
<rect x="252.00" y="357.52" width="8.35" height="10.22" fill="#38509c"/>
<rect x="260.05" y="357.52" width="8.35" height="10.22" fill="#453f98"/>
<rect x="268.10" y="357.52" width="8.35" height="10.22" fill="#453f98"/>
<rect x="276.15" y="357.52" width="8.35" height="10.22" fill="#38509c"/>
<rect x="171.50" y="367.44" width="8.35" height="10.22" fill="#1dc566"/>
<rect x="179.55" y="367.44" width="8.35" height="10.22" fill="#1dc566"/>
<rect x="187.60" y="367.44" width="8.35" height="10.22" fill="#1dc566"/>
<rect x="195.65" y="367.44" width="8.35" height="10.22" fill="#1dc566"/>
<rect x="203.70" y="367.44" width="8.35" height="10.22" fill="#1abe6e"/>
<rect x="211.75" y="367.44" width="8.35" height="10.22" fill="#54d34b"/>
<rect x="219.80" y="367.44" width="8.35" height="10.22" fill="#2bc85f"/>
<rect x="227.85" y="367.44" width="8.35" height="10.22" fill="#2a62a0"/>
<rect x="235.90" y="367.44" width="8.35" height="10.22" fill="#38509c"/>
<rect x="243.95" y="367.44" width="8.35" height="10.22" fill="#2a62a0"/>
<rect x="252.00" y="367.44" width="8.35" height="10.22" fill="#2a62a0"/>
<rect x="260.05" y="367.44" width="8.35" height="10.22" fill="#20729d"/>
<rect x="268.10" y="367.44" width="8.35" height="10.22" fill="#38509c"/>
<rect x="276.15" y="367.44" width="8.35" height="10.22" fill="#38509c"/>
<rect x="171.50" y="377.36" width="8.35" height="10.22" fill="#16b279"/>
<rect x="179.55" y="377.36" width="8.35" height="10.22" fill="#16b279"/>
<rect x="187.60" y="377.36" width="8.35" height="10.22" fill="#16b279"/>
<rect x="195.65" y="377.36" width="8.35" height="10.22" fill="#10a08c"/>
<rect x="203.70" y="377.36" width="8.35" height="10.22" fill="#149093"/>
<rect x="211.75" y="377.36" width="8.35" height="10.22" fill="#dae41c"/>
<rect x="219.80" y="377.36" width="8.35" height="10.22" fill="#1dc566"/>
<rect x="227.85" y="377.36" width="8.35" height="10.22" fill="#453f98"/>
<rect x="235.90" y="377.36" width="8.35" height="10.22" fill="#4a308e"/>
<rect x="243.95" y="377.36" width="8.35" height="10.22" fill="#453f98"/>
<rect x="252.00" y="377.36" width="8.35" height="10.22" fill="#17819a"/>
<rect x="260.05" y="377.36" width="8.35" height="10.22" fill="#4a308e"/>
<rect x="268.10" y="377.36" width="8.35" height="10.22" fill="#20729d"/>
<rect x="276.15" y="377.36" width="8.35" height="10.22" fill="#20729d"/>
<rect x="171.50" y="387.28" width="8.35" height="10.22" fill="#2a62a0"/>
<rect x="179.55" y="387.28" width="8.35" height="10.22" fill="#38509c"/>
<rect x="187.60" y="387.28" width="8.35" height="10.22" fill="#38509c"/>
<rect x="195.65" y="387.28" width="8.35" height="10.22" fill="#453f98"/>
<rect x="203.70" y="387.28" width="8.35" height="10.22" fill="#38509c"/>
<rect x="211.75" y="387.28" width="8.35" height="10.22" fill="#4a308e"/>
<rect x="219.80" y="387.28" width="8.35" height="10.22" fill="#38509c"/>
<rect x="227.85" y="387.28" width="8.35" height="10.22" fill="#10a08c"/>
<rect x="235.90" y="387.28" width="8.35" height="10.22" fill="#16b279"/>
<rect x="243.95" y="387.28" width="8.35" height="10.22" fill="#1dc566"/>
<rect x="252.00" y="387.28" width="8.35" height="10.22" fill="#1dc566"/>
<rect x="260.05" y="387.28" width="8.35" height="10.22" fill="#16b279"/>
<rect x="268.10" y="387.28" width="8.35" height="10.22" fill="#1dc566"/>
<rect x="276.15" y="387.28" width="8.35" height="10.22" fill="#62d644"/>
<rect x="171.50" y="397.20" width="8.35" height="10.22" fill="#16b279"/>
<rect x="179.55" y="397.20" width="8.35" height="10.22" fill="#20729d"/>
<rect x="187.60" y="397.20" width="8.35" height="10.22" fill="#2a62a0"/>
<rect x="195.65" y="397.20" width="8.35" height="10.22" fill="#2a62a0"/>
<rect x="203.70" y="397.20" width="8.35" height="10.22" fill="#4a308e"/>
<rect x="211.75" y="397.20" width="8.35" height="10.22" fill="#4a308e"/>
<rect x="219.80" y="397.20" width="8.35" height="10.22" fill="#4a308e"/>
<rect x="227.85" y="397.20" width="8.35" height="10.22" fill="#10a08c"/>
<rect x="235.90" y="397.20" width="8.35" height="10.22" fill="#10a08c"/>
<rect x="243.95" y="397.20" width="8.35" height="10.22" fill="#dae41c"/>
<rect x="252.00" y="397.20" width="8.35" height="10.22" fill="#62d644"/>
<rect x="260.05" y="397.20" width="8.35" height="10.22" fill="#149093"/>
<rect x="268.10" y="397.20" width="8.35" height="10.22" fill="#149093"/>
<rect x="276.15" y="397.20" width="8.35" height="10.22" fill="#10a08c"/>
<rect x="171.50" y="407.12" width="8.35" height="10.22" fill="#16b279"/>
<rect x="179.55" y="407.12" width="8.35" height="10.22" fill="#4a308e"/>
<rect x="187.60" y="407.12" width="8.35" height="10.22" fill="#2a62a0"/>
<rect x="195.65" y="407.12" width="8.35" height="10.22" fill="#4a308e"/>
<rect x="203.70" y="407.12" width="8.35" height="10.22" fill="#2a62a0"/>
<rect x="211.75" y="407.12" width="8.35" height="10.22" fill="#17819a"/>
<rect x="219.80" y="407.12" width="8.35" height="10.22" fill="#149093"/>
<rect x="227.85" y="407.12" width="8.35" height="10.22" fill="#16b279"/>
<rect x="235.90" y="407.12" width="8.35" height="10.22" fill="#17819a"/>
<rect x="243.95" y="407.12" width="8.35" height="10.22" fill="#ffe81a"/>
<rect x="252.00" y="407.12" width="8.35" height="10.22" fill="#2a62a0"/>
<rect x="260.05" y="407.12" width="8.35" height="10.22" fill="#1dc566"/>
<rect x="268.10" y="407.12" width="8.35" height="10.22" fill="#1dc566"/>
<rect x="276.15" y="407.12" width="8.35" height="10.22" fill="#16b279"/>
<rect x="171.50" y="417.04" width="8.35" height="10.22" fill="#10a08c"/>
<rect x="179.55" y="417.04" width="8.35" height="10.22" fill="#4a0458"/>
<rect x="187.60" y="417.04" width="8.35" height="10.22" fill="#4a308e"/>
<rect x="195.65" y="417.04" width="8.35" height="10.22" fill="#149093"/>
<rect x="203.70" y="417.04" width="8.35" height="10.22" fill="#20729d"/>
<rect x="211.75" y="417.04" width="8.35" height="10.22" fill="#149093"/>
<rect x="219.80" y="417.04" width="8.35" height="10.22" fill="#149093"/>
<rect x="227.85" y="417.04" width="8.35" height="10.22" fill="#1dc566"/>
<rect x="235.90" y="417.04" width="8.35" height="10.22" fill="#2a62a0"/>
<rect x="243.95" y="417.04" width="8.35" height="10.22" fill="#20729d"/>
<rect x="252.00" y="417.04" width="8.35" height="10.22" fill="#149093"/>
<rect x="260.05" y="417.04" width="8.35" height="10.22" fill="#62d644"/>
<rect x="268.10" y="417.04" width="8.35" height="10.22" fill="#ffe81a"/>
<rect x="276.15" y="417.04" width="8.35" height="10.22" fill="#10a08c"/>
<rect x="171.50" y="426.96" width="8.35" height="10.22" fill="#10a08c"/>
<rect x="179.55" y="426.96" width="8.35" height="10.22" fill="#4a0458"/>
<rect x="187.60" y="426.96" width="8.35" height="10.22" fill="#4a308e"/>
<rect x="195.65" y="426.96" width="8.35" height="10.22" fill="#10a08c"/>
<rect x="203.70" y="426.96" width="8.35" height="10.22" fill="#149093"/>
<rect x="211.75" y="426.96" width="8.35" height="10.22" fill="#10a08c"/>
<rect x="219.80" y="426.96" width="8.35" height="10.22" fill="#10a08c"/>
<rect x="227.85" y="426.96" width="8.35" height="10.22" fill="#1dc566"/>
<rect x="235.90" y="426.96" width="8.35" height="10.22" fill="#20729d"/>
<rect x="243.95" y="426.96" width="8.35" height="10.22" fill="#1dc566"/>
<rect x="252.00" y="426.96" width="8.35" height="10.22" fill="#16b279"/>
<rect x="260.05" y="426.96" width="8.35" height="10.22" fill="#10a08c"/>
<rect x="268.10" y="426.96" width="8.35" height="10.22" fill="#1dc566"/>
<rect x="276.15" y="426.96" width="8.35" height="10.22" fill="#10a08c"/>
<rect x="171.50" y="436.88" width="8.35" height="10.22" fill="#10a08c"/>
<rect x="179.55" y="436.88" width="8.35" height="10.22" fill="#453f98"/>
<rect x="187.60" y="436.88" width="8.35" height="10.22" fill="#4c136e"/>
<rect x="195.65" y="436.88" width="8.35" height="10.22" fill="#149093"/>
<rect x="203.70" y="436.88" width="8.35" height="10.22" fill="#38509c"/>
<rect x="211.75" y="436.88" width="8.35" height="10.22" fill="#149093"/>
<rect x="219.80" y="436.88" width="8.35" height="10.22" fill="#2a62a0"/>
<rect x="227.85" y="436.88" width="8.35" height="10.22" fill="#10a08c"/>
<rect x="235.90" y="436.88" width="8.35" height="10.22" fill="#20729d"/>
<rect x="243.95" y="436.88" width="8.35" height="10.22" fill="#62d644"/>
<rect x="252.00" y="436.88" width="8.35" height="10.22" fill="#10a08c"/>
<rect x="260.05" y="436.88" width="8.35" height="10.22" fill="#149093"/>
<rect x="268.10" y="436.88" width="8.35" height="10.22" fill="#ffe81a"/>
<rect x="276.15" y="436.88" width="8.35" height="10.22" fill="#10a08c"/>
</g>
<text x="284.90" y="305.96" font-size="4.20" font-weight="normal" text-anchor="start" fill="#444">CISD3</text>
<text x="284.90" y="315.88" font-size="4.20" font-weight="normal" text-anchor="start" fill="#444">PDK3</text>
<text x="284.90" y="325.80" font-size="4.20" font-weight="normal" text-anchor="start" fill="#444">ERO1L</text>
<text x="284.90" y="335.72" font-size="4.20" font-weight="normal" text-anchor="start" fill="#444">AK4</text>
<text x="284.90" y="345.64" font-size="4.20" font-weight="normal" text-anchor="start" fill="#444">TXNDC12</text>
<text x="284.90" y="355.56" font-size="4.20" font-weight="normal" text-anchor="start" fill="#444">TMX1</text>
<text x="284.90" y="365.48" font-size="4.20" font-weight="bold" text-anchor="start" fill="#111">GPX7</text>
<text x="284.90" y="375.40" font-size="4.20" font-weight="bold" text-anchor="start" fill="#111">TXNRD2</text>
<text x="284.90" y="385.32" font-size="4.20" font-weight="bold" text-anchor="start" fill="#111">GGT3P</text>
<text x="284.90" y="395.24" font-size="4.20" font-weight="bold" text-anchor="start" fill="#111">GLRX2</text>
<text x="284.90" y="405.16" font-size="4.20" font-weight="normal" text-anchor="start" fill="#444">TMX3</text>
<text x="284.90" y="415.08" font-size="4.20" font-weight="normal" text-anchor="start" fill="#444">BOLA2</text>
<text x="284.90" y="425.00" font-size="4.20" font-weight="normal" text-anchor="start" fill="#444">ADH5</text>
<text x="284.90" y="434.92" font-size="4.20" font-weight="bold" text-anchor="start" fill="#111">TXN1L</text>
<text x="284.90" y="444.84" font-size="4.20" font-weight="normal" text-anchor="start" fill="#444">GSTM3</text>
<text x="7.60" y="348.80" font-size="5.30" font-weight="bold" text-anchor="start" fill="#000" textLength="19.8" lengthAdjust="spacingAndGlyphs">Z-score</text>
<rect x="7.6" y="350.5" width="6.1" height="33.5" fill="url(#vir)"/>
<text x="14.80" y="354.70" font-size="5.40" font-weight="normal" text-anchor="start" fill="#111">2</text>
<text x="14.80" y="361.90" font-size="5.40" font-weight="normal" text-anchor="start" fill="#111">1</text>
<text x="14.80" y="369.40" font-size="5.40" font-weight="normal" text-anchor="start" fill="#111">0</text>
<text x="14.80" y="376.90" font-size="5.40" font-weight="normal" text-anchor="start" fill="#111">-1</text>
<text x="14.80" y="384.30" font-size="5.40" font-weight="normal" text-anchor="start" fill="#111">-2</text>
<path d="M28.3,307.2V368M28.3,307.2H35.9M28.3,368H29.5M29.5,340V396M29.5,340H32.3M29.5,396H30.5M32.3,325.8V353.7M32.3,325.8H35.9M32.3,353.7H33.5M33.5,344.5V363.1M33.5,344.5H35.9M33.5,363.1H35.9M30.5,381.7V410M30.5,381.7H35.9M30.5,410H32.3M32.3,400.3V428M32.3,400.3H35.9M32.3,428H33.5M33.5,419V437.6M33.5,419H35.9M33.5,437.6H35.9" stroke="#a4a4a4" stroke-width="0.4" fill="none"/>
<path d="M163,340 V420 M163,340 H166 M166,310 V360 M166,310 H169 M169,303 V330 M169,303 H171.6 M169,330 H171.6 M166,360 H168 M168,345 V385 M168,345 H171.6 M168,385 H171.6 M163,420 H167 M167,400 V440 M167,400 H171.6 M167,440 H171.6" stroke="#d4d4d4" stroke-width="0.4" fill="none"/>
<text x="328.30" y="54.20" font-size="9.60" font-weight="bold" text-anchor="start" fill="#000">C</text>
<text x="430.20" y="53.80" font-size="8.70" font-weight="bold" text-anchor="middle" fill="#000" textLength="92.0" lengthAdjust="spacingAndGlyphs">Mitochondrial Fission</text>
<rect x="354.0" y="59.6" width="74.0" height="8.7" fill="#7da0d3"/>
<rect x="428.0" y="59.6" width="73.8" height="8.7" fill="#ee2a24"/>
<text x="391.00" y="67.08" font-size="8.70" font-weight="normal" text-anchor="middle" fill="#fff" textLength="38.7" lengthAdjust="spacingAndGlyphs">Wild Type</text>
<text x="464.90" y="67.08" font-size="8.70" font-weight="normal" text-anchor="middle" fill="#fff" textLength="25.6" lengthAdjust="spacingAndGlyphs">MYH7</text>
<g shape-rendering="crispEdges">
<rect x="354.00" y="68.30" width="15.08" height="11.38" fill="#ff9a0c"/>
<rect x="368.78" y="68.30" width="15.08" height="11.38" fill="#ff9a0c"/>
<rect x="383.56" y="68.30" width="15.08" height="11.38" fill="#c83558"/>
<rect x="398.34" y="68.30" width="15.08" height="11.38" fill="#fb6228"/>
<rect x="413.12" y="68.30" width="15.08" height="11.38" fill="#fb6228"/>
<rect x="427.90" y="68.30" width="15.08" height="11.38" fill="#1a0a48"/>
<rect x="442.68" y="68.30" width="15.08" height="11.38" fill="#000004"/>
<rect x="457.46" y="68.30" width="15.08" height="11.38" fill="#b02668"/>
<rect x="472.24" y="68.30" width="15.08" height="11.38" fill="#f65c2e"/>
<rect x="487.02" y="68.30" width="15.08" height="11.38" fill="#651179"/>
<rect x="354.00" y="79.38" width="15.08" height="11.38" fill="#c83558"/>
<rect x="368.78" y="79.38" width="15.08" height="11.38" fill="#ffb51e"/>
<rect x="383.56" y="79.38" width="15.08" height="11.38" fill="#ffe865"/>
<rect x="398.34" y="79.38" width="15.08" height="11.38" fill="#ee5338"/>
<rect x="413.12" y="79.38" width="15.08" height="11.38" fill="#fd7e1a"/>
<rect x="427.90" y="79.38" width="15.08" height="11.38" fill="#651179"/>
<rect x="442.68" y="79.38" width="15.08" height="11.38" fill="#651179"/>
<rect x="457.46" y="79.38" width="15.08" height="11.38" fill="#651179"/>
<rect x="472.24" y="79.38" width="15.08" height="11.38" fill="#4a0a78"/>
<rect x="487.02" y="79.38" width="15.08" height="11.38" fill="#80187a"/>
<rect x="354.00" y="90.46" width="15.08" height="11.38" fill="#ff9a0c"/>
<rect x="368.78" y="90.46" width="15.08" height="11.38" fill="#fb6228"/>
<rect x="383.56" y="90.46" width="15.08" height="11.38" fill="#fc7320"/>
<rect x="398.34" y="90.46" width="15.08" height="11.38" fill="#ffa513"/>
<rect x="413.12" y="90.46" width="15.08" height="11.38" fill="#ee5338"/>
<rect x="427.90" y="90.46" width="15.08" height="11.38" fill="#320a60"/>
<rect x="442.68" y="90.46" width="15.08" height="11.38" fill="#75157a"/>
<rect x="457.46" y="90.46" width="15.08" height="11.38" fill="#000004"/>
<rect x="472.24" y="90.46" width="15.08" height="11.38" fill="#8e1c75"/>
<rect x="487.02" y="90.46" width="15.08" height="11.38" fill="#e04448"/>
<rect x="354.00" y="101.54" width="15.08" height="11.38" fill="#b02668"/>
<rect x="368.78" y="101.54" width="15.08" height="11.38" fill="#be2f5e"/>
<rect x="383.56" y="101.54" width="15.08" height="11.38" fill="#fe8f12"/>
<rect x="398.34" y="101.54" width="15.08" height="11.38" fill="#ffff9a"/>
<rect x="413.12" y="101.54" width="15.08" height="11.38" fill="#fe8f12"/>
<rect x="427.90" y="101.54" width="15.08" height="11.38" fill="#4a0a78"/>
<rect x="442.68" y="101.54" width="15.08" height="11.38" fill="#651179"/>
<rect x="457.46" y="101.54" width="15.08" height="11.38" fill="#320a60"/>
<rect x="472.24" y="101.54" width="15.08" height="11.38" fill="#e04448"/>
<rect x="487.02" y="101.54" width="15.08" height="11.38" fill="#981f71"/>
<rect x="354.00" y="112.62" width="15.08" height="11.38" fill="#8e1c75"/>
<rect x="368.78" y="112.62" width="15.08" height="11.38" fill="#a6236c"/>
<rect x="383.56" y="112.62" width="15.08" height="11.38" fill="#0d0526"/>
<rect x="398.34" y="112.62" width="15.08" height="11.38" fill="#981f71"/>
<rect x="413.12" y="112.62" width="15.08" height="11.38" fill="#280a56"/>
<rect x="427.90" y="112.62" width="15.08" height="11.38" fill="#ff9a0c"/>
<rect x="442.68" y="112.62" width="15.08" height="11.38" fill="#ffb51e"/>
<rect x="457.46" y="112.62" width="15.08" height="11.38" fill="#ffc529"/>
<rect x="472.24" y="112.62" width="15.08" height="11.38" fill="#be2f5e"/>
<rect x="487.02" y="112.62" width="15.08" height="11.38" fill="#fb6228"/>
<rect x="354.00" y="123.71" width="15.08" height="11.38" fill="#120734"/>
<rect x="368.78" y="123.71" width="15.08" height="11.38" fill="#981f71"/>
<rect x="383.56" y="123.71" width="15.08" height="11.38" fill="#80187a"/>
<rect x="398.34" y="123.71" width="15.08" height="11.38" fill="#b02668"/>
<rect x="413.12" y="123.71" width="15.08" height="11.38" fill="#080318"/>
<rect x="427.90" y="123.71" width="15.08" height="11.38" fill="#ffb51e"/>
<rect x="442.68" y="123.71" width="15.08" height="11.38" fill="#fb6228"/>
<rect x="457.46" y="123.71" width="15.08" height="11.38" fill="#ffaa17"/>
<rect x="472.24" y="123.71" width="15.08" height="11.38" fill="#e04448"/>
<rect x="487.02" y="123.71" width="15.08" height="11.38" fill="#ee5338"/>
<rect x="354.00" y="134.79" width="15.08" height="11.38" fill="#120734"/>
<rect x="368.78" y="134.79" width="15.08" height="11.38" fill="#80187a"/>
<rect x="383.56" y="134.79" width="15.08" height="11.38" fill="#5a0e79"/>
<rect x="398.34" y="134.79" width="15.08" height="11.38" fill="#b02668"/>
<rect x="413.12" y="134.79" width="15.08" height="11.38" fill="#80187a"/>
<rect x="427.90" y="134.79" width="15.08" height="11.38" fill="#ffc529"/>
<rect x="442.68" y="134.79" width="15.08" height="11.38" fill="#b02668"/>
<rect x="457.46" y="134.79" width="15.08" height="11.38" fill="#ff9a0c"/>
<rect x="472.24" y="134.79" width="15.08" height="11.38" fill="#ffb51e"/>
<rect x="487.02" y="134.79" width="15.08" height="11.38" fill="#ffa513"/>
<rect x="354.00" y="145.87" width="15.08" height="11.38" fill="#4a0a78"/>
<rect x="368.78" y="145.87" width="15.08" height="11.38" fill="#120734"/>
<rect x="383.56" y="145.87" width="15.08" height="11.38" fill="#080318"/>
<rect x="398.34" y="145.87" width="15.08" height="11.38" fill="#be2f5e"/>
<rect x="413.12" y="145.87" width="15.08" height="11.38" fill="#80187a"/>
<rect x="427.90" y="145.87" width="15.08" height="11.38" fill="#ffb51e"/>
<rect x="442.68" y="145.87" width="15.08" height="11.38" fill="#fb6228"/>
<rect x="457.46" y="145.87" width="15.08" height="11.38" fill="#fe8f12"/>
<rect x="472.24" y="145.87" width="15.08" height="11.38" fill="#ee5338"/>
<rect x="487.02" y="145.87" width="15.08" height="11.38" fill="#fb6228"/>
<rect x="354.00" y="156.95" width="15.08" height="11.38" fill="#651179"/>
<rect x="368.78" y="156.95" width="15.08" height="11.38" fill="#1a0a48"/>
<rect x="383.56" y="156.95" width="15.08" height="11.38" fill="#120734"/>
<rect x="398.34" y="156.95" width="15.08" height="11.38" fill="#fb6228"/>
<rect x="413.12" y="156.95" width="15.08" height="11.38" fill="#80187a"/>
<rect x="427.90" y="156.95" width="15.08" height="11.38" fill="#ff9a0c"/>
<rect x="442.68" y="156.95" width="15.08" height="11.38" fill="#e04448"/>
<rect x="457.46" y="156.95" width="15.08" height="11.38" fill="#ffd030"/>
<rect x="472.24" y="156.95" width="15.08" height="11.38" fill="#ba2c62"/>
<rect x="487.02" y="156.95" width="15.08" height="11.38" fill="#fb6228"/>
<rect x="354.00" y="168.03" width="15.08" height="11.38" fill="#120734"/>
<rect x="368.78" y="168.03" width="15.08" height="11.38" fill="#050212"/>
<rect x="383.56" y="168.03" width="15.08" height="11.38" fill="#b02668"/>
<rect x="398.34" y="168.03" width="15.08" height="11.38" fill="#ee5338"/>
<rect x="413.12" y="168.03" width="15.08" height="11.38" fill="#1a0a48"/>
<rect x="427.90" y="168.03" width="15.08" height="11.38" fill="#ff9a0c"/>
<rect x="442.68" y="168.03" width="15.08" height="11.38" fill="#fd7e1a"/>
<rect x="457.46" y="168.03" width="15.08" height="11.38" fill="#fe8f12"/>
<rect x="472.24" y="168.03" width="15.08" height="11.38" fill="#fb6228"/>
<rect x="487.02" y="168.03" width="15.08" height="11.38" fill="#fb6228"/>
<rect x="354.00" y="179.11" width="15.08" height="11.38" fill="#4a0a78"/>
<rect x="368.78" y="179.11" width="15.08" height="11.38" fill="#050212"/>
<rect x="383.56" y="179.11" width="15.08" height="11.38" fill="#80187a"/>
<rect x="398.34" y="179.11" width="15.08" height="11.38" fill="#c83558"/>
<rect x="413.12" y="179.11" width="15.08" height="11.38" fill="#550d78"/>
<rect x="427.90" y="179.11" width="15.08" height="11.38" fill="#ff9a0c"/>
<rect x="442.68" y="179.11" width="15.08" height="11.38" fill="#fe8f12"/>
<rect x="457.46" y="179.11" width="15.08" height="11.38" fill="#ffd030"/>
<rect x="472.24" y="179.11" width="15.08" height="11.38" fill="#ba2c62"/>
<rect x="487.02" y="179.11" width="15.08" height="11.38" fill="#fb6228"/>
<rect x="354.00" y="190.19" width="15.08" height="11.38" fill="#4a0a78"/>
<rect x="368.78" y="190.19" width="15.08" height="11.38" fill="#4a0a78"/>
<rect x="383.56" y="190.19" width="15.08" height="11.38" fill="#8a1b76"/>
<rect x="398.34" y="190.19" width="15.08" height="11.38" fill="#8a1b76"/>
<rect x="413.12" y="190.19" width="15.08" height="11.38" fill="#4a0a78"/>
<rect x="427.90" y="190.19" width="15.08" height="11.38" fill="#fb6228"/>
<rect x="442.68" y="190.19" width="15.08" height="11.38" fill="#fe8f12"/>
<rect x="457.46" y="190.19" width="15.08" height="11.38" fill="#fff685"/>
<rect x="472.24" y="190.19" width="15.08" height="11.38" fill="#ba2c62"/>
<rect x="487.02" y="190.19" width="15.08" height="11.38" fill="#fd7e1a"/>
<rect x="354.00" y="201.28" width="15.08" height="11.38" fill="#4a0a78"/>
<rect x="368.78" y="201.28" width="15.08" height="11.38" fill="#4a0a78"/>
<rect x="383.56" y="201.28" width="15.08" height="11.38" fill="#8a1b76"/>
<rect x="398.34" y="201.28" width="15.08" height="11.38" fill="#8a1b76"/>
<rect x="413.12" y="201.28" width="15.08" height="11.38" fill="#4a0a78"/>
<rect x="427.90" y="201.28" width="15.08" height="11.38" fill="#fb6228"/>
<rect x="442.68" y="201.28" width="15.08" height="11.38" fill="#fe8f12"/>
<rect x="457.46" y="201.28" width="15.08" height="11.38" fill="#fff685"/>
<rect x="472.24" y="201.28" width="15.08" height="11.38" fill="#ba2c62"/>
<rect x="487.02" y="201.28" width="15.08" height="11.38" fill="#fd7e1a"/>
<rect x="354.00" y="212.36" width="15.08" height="11.38" fill="#80187a"/>
<rect x="368.78" y="212.36" width="15.08" height="11.38" fill="#651179"/>
<rect x="383.56" y="212.36" width="15.08" height="11.38" fill="#320a60"/>
<rect x="398.34" y="212.36" width="15.08" height="11.38" fill="#ee5338"/>
<rect x="413.12" y="212.36" width="15.08" height="11.38" fill="#651179"/>
<rect x="427.90" y="212.36" width="15.08" height="11.38" fill="#d63e4e"/>
<rect x="442.68" y="212.36" width="15.08" height="11.38" fill="#ffff9a"/>
<rect x="457.46" y="212.36" width="15.08" height="11.38" fill="#be2f5e"/>
<rect x="472.24" y="212.36" width="15.08" height="11.38" fill="#fe8f12"/>
<rect x="487.02" y="212.36" width="15.08" height="11.38" fill="#ee5338"/>
<rect x="354.00" y="223.44" width="15.08" height="11.38" fill="#d63e4e"/>
<rect x="368.78" y="223.44" width="15.08" height="11.38" fill="#120734"/>
<rect x="383.56" y="223.44" width="15.08" height="11.38" fill="#651179"/>
<rect x="398.34" y="223.44" width="15.08" height="11.38" fill="#15083a"/>
<rect x="413.12" y="223.44" width="15.08" height="11.38" fill="#981f71"/>
<rect x="427.90" y="223.44" width="15.08" height="11.38" fill="#ffb51e"/>
<rect x="442.68" y="223.44" width="15.08" height="11.38" fill="#ff9a0c"/>
<rect x="457.46" y="223.44" width="15.08" height="11.38" fill="#be2f5e"/>
<rect x="472.24" y="223.44" width="15.08" height="11.38" fill="#fe8f12"/>
<rect x="487.02" y="223.44" width="15.08" height="11.38" fill="#fd7e1a"/>
<rect x="354.00" y="234.52" width="15.08" height="11.38" fill="#4a0a78"/>
<rect x="368.78" y="234.52" width="15.08" height="11.38" fill="#03010b"/>
<rect x="383.56" y="234.52" width="15.08" height="11.38" fill="#981f71"/>
<rect x="398.34" y="234.52" width="15.08" height="11.38" fill="#981f71"/>
<rect x="413.12" y="234.52" width="15.08" height="11.38" fill="#8e1c75"/>
<rect x="427.90" y="234.52" width="15.08" height="11.38" fill="#ffb51e"/>
<rect x="442.68" y="234.52" width="15.08" height="11.38" fill="#fe8f12"/>
<rect x="457.46" y="234.52" width="15.08" height="11.38" fill="#981f71"/>
<rect x="472.24" y="234.52" width="15.08" height="11.38" fill="#fe8f12"/>
<rect x="487.02" y="234.52" width="15.08" height="11.38" fill="#fd7e1a"/>
</g>
<g transform="translate(503.2,76.34) scale(0.925,1)"><text font-size="7.2" font-weight="normal" fill="#1a1a1a">CLEC16A<tspan font-size="4.5" dy="-2.8">S863</tspan></text></g>
<g transform="translate(503.2,87.42) scale(0.925,1)"><text font-size="7.2" font-weight="normal" fill="#1a1a1a">CLEC16A<tspan font-size="4.5" dy="-2.8">S454</tspan></text></g>
<g transform="translate(503.2,98.50) scale(0.925,1)"><text font-size="7.2" font-weight="normal" fill="#1a1a1a">HUWE1<tspan font-size="4.5" dy="-2.8">T3152</tspan></text></g>
<g transform="translate(503.2,109.58) scale(0.925,1)"><text font-size="7.2" font-weight="normal" fill="#1a1a1a">TIMM8A<tspan font-size="4.5" dy="-2.8">S57</tspan></text></g>
<g transform="translate(503.2,120.67) scale(0.925,1)"><text font-size="7.2" font-weight="normal" fill="#1a1a1a">HUWE1<tspan font-size="4.5" dy="-2.8">S3662</tspan></text></g>
<g transform="translate(503.2,131.75) scale(0.925,1)"><text font-size="7.2" font-weight="normal" fill="#1a1a1a">USP15<tspan font-size="4.5" dy="-2.8">S229</tspan></text></g>
<g transform="translate(503.2,142.83) scale(0.925,1)"><text font-size="7.2" font-weight="bold" fill="#000">DNM1L<tspan font-size="4.5" dy="-2.8">S616</tspan></text></g>
<g transform="translate(503.2,153.91) scale(0.925,1)"><text font-size="7.2" font-weight="bold" fill="#000">RAF1<tspan font-size="4.5" dy="-2.8">S642</tspan></text></g>
<g transform="translate(503.2,164.99) scale(0.925,1)"><text font-size="7.2" font-weight="bold" fill="#000">RAF1<tspan font-size="4.5" dy="-2.8">S301</tspan></text></g>
<g transform="translate(503.2,176.07) scale(0.925,1)"><text font-size="7.2" font-weight="normal" fill="#1a1a1a">SLC25A11<tspan font-size="4.5" dy="-2.8">S6</tspan></text></g>
<g transform="translate(503.2,187.15) scale(0.925,1)"><text font-size="7.2" font-weight="bold" fill="#000">MIEF<tspan font-size="4.5" dy="-2.8">S59</tspan></text></g>
<g transform="translate(503.2,198.23) scale(0.925,1)"><text font-size="7.2" font-weight="normal" fill="#1a1a1a">RALBP1<tspan font-size="4.5" dy="-2.8">S34</tspan></text></g>
<g transform="translate(503.2,209.32) scale(0.925,1)"><text font-size="7.2" font-weight="normal" fill="#1a1a1a">RALBP1<tspan font-size="4.5" dy="-2.8">T27</tspan></text></g>
<g transform="translate(503.2,220.40) scale(0.925,1)"><text font-size="7.2" font-weight="bold" fill="#000">MFF<tspan font-size="4.5" dy="-2.8">S157</tspan></text></g>
<g transform="translate(503.2,231.48) scale(0.925,1)"><text font-size="7.2" font-weight="bold" fill="#000">MAPK1<tspan font-size="4.5" dy="-2.8">T181</tspan></text></g>
<g transform="translate(503.2,242.56) scale(0.925,1)"><text font-size="7.2" font-weight="bold" fill="#000">MAPK1<tspan font-size="4.5" dy="-2.8">T185</tspan></text></g>
<text x="318.40" y="204.00" font-size="5.60" font-weight="bold" text-anchor="start" fill="#000" textLength="19.7" lengthAdjust="spacingAndGlyphs">Z-score</text>
<rect x="321.4" y="207" width="8.1" height="40.4" fill="url(#inf)"/>
<text x="331.00" y="211.20" font-size="6.20" font-weight="bold" text-anchor="start" fill="#111">2.0</text>
<text x="331.00" y="220.30" font-size="6.20" font-weight="bold" text-anchor="start" fill="#111">1.0</text>
<text x="331.00" y="229.20" font-size="6.20" font-weight="bold" text-anchor="start" fill="#111">0</text>
<text x="331.00" y="238.20" font-size="6.20" font-weight="bold" text-anchor="start" fill="#111">-1.0</text>
<text x="331.00" y="248.00" font-size="6.20" font-weight="bold" text-anchor="start" fill="#111">-1.5</text>
<path d="M335.8,84.0V182.2M335.8,84.0H345.4M345.4,73.8V101.5M345.4,73.8H354.0M345.4,84.9H354.0M345.4,101.5H347.8M347.8,96.0V107.1M347.8,96.0H354.0M347.8,107.1H354.0M335.8,182.2H343.8M343.8,145.0V225.6M343.8,145.0H346.3M346.3,124.0V165.0M346.3,124.0H349.4M349.4,118.2V129.2M349.4,118.2H354.0M349.4,129.2H354.0M346.3,165.0H347.5M347.5,140.3V185.0M347.5,140.3H354.0M347.5,185.0H348.5M348.5,157.0V200.0M348.5,157.0H350.0M350.0,151.4V162.5M350.0,151.4H354.0M350.0,162.5H354.0M348.5,200.0H349.5M349.5,179.0V201.3M349.5,179.0H351.0M351.0,173.6V184.6M351.0,173.6H354.0M351.0,184.6H354.0M349.5,201.3H351.6M351.6,195.7V206.8M351.6,195.7H354.0M351.6,206.8H354.0M343.8,225.6H345.9M345.9,217.9V234.3M345.9,217.9H354.0M345.9,234.3H348.5M348.5,229.0V240.0M348.5,229.0H354.0M348.5,240.0H354.0" stroke="#333" stroke-width="0.45" fill="none"/>
<text x="328.30" y="267.60" font-size="9.60" font-weight="bold" text-anchor="start" fill="#000">D</text>
<text x="430.00" y="259.20" font-size="8.70" font-weight="bold" text-anchor="middle" fill="#000" textLength="104.0" lengthAdjust="spacingAndGlyphs">Cell Redox Homeostasis</text>
<rect x="354.0" y="263.6" width="74.0" height="8.1" fill="#7da0d3"/>
<rect x="428.0" y="263.6" width="73.8" height="8.1" fill="#ee2a24"/>
<text x="391.00" y="270.78" font-size="8.70" font-weight="normal" text-anchor="middle" fill="#fff" textLength="38.7" lengthAdjust="spacingAndGlyphs">Wild Type</text>
<text x="464.90" y="270.78" font-size="8.70" font-weight="normal" text-anchor="middle" fill="#fff" textLength="25.6" lengthAdjust="spacingAndGlyphs">MYH7</text>
<g shape-rendering="crispEdges">
<rect x="354.00" y="271.70" width="15.08" height="12.40" fill="#149093"/>
<rect x="368.78" y="271.70" width="15.08" height="12.40" fill="#16b279"/>
<rect x="383.56" y="271.70" width="15.08" height="12.40" fill="#16b279"/>
<rect x="398.34" y="271.70" width="15.08" height="12.40" fill="#a4de26"/>
<rect x="413.12" y="271.70" width="15.08" height="12.40" fill="#16b279"/>
<rect x="427.90" y="271.70" width="15.08" height="12.40" fill="#38509c"/>
<rect x="442.68" y="271.70" width="15.08" height="12.40" fill="#4c0d65"/>
<rect x="457.46" y="271.70" width="15.08" height="12.40" fill="#246b9e"/>
<rect x="472.24" y="271.70" width="15.08" height="12.40" fill="#32ca5c"/>
<rect x="487.02" y="271.70" width="15.08" height="12.40" fill="#10a08c"/>
<rect x="354.00" y="283.80" width="15.08" height="12.40" fill="#16b279"/>
<rect x="368.78" y="283.80" width="15.08" height="12.40" fill="#14ab81"/>
<rect x="383.56" y="283.80" width="15.08" height="12.40" fill="#2bc85f"/>
<rect x="398.34" y="283.80" width="15.08" height="12.40" fill="#32ca5c"/>
<rect x="413.12" y="283.80" width="15.08" height="12.40" fill="#2bc85f"/>
<rect x="427.90" y="283.80" width="15.08" height="12.40" fill="#453f98"/>
<rect x="442.68" y="283.80" width="15.08" height="12.40" fill="#473994"/>
<rect x="457.46" y="283.80" width="15.08" height="12.40" fill="#453f98"/>
<rect x="472.24" y="283.80" width="15.08" height="12.40" fill="#1abe6e"/>
<rect x="487.02" y="283.80" width="15.08" height="12.40" fill="#2f5b9e"/>
<rect x="354.00" y="295.90" width="15.08" height="12.40" fill="#16b279"/>
<rect x="368.78" y="295.90" width="15.08" height="12.40" fill="#20729d"/>
<rect x="383.56" y="295.90" width="15.08" height="12.40" fill="#1dc566"/>
<rect x="398.34" y="295.90" width="15.08" height="12.40" fill="#16b279"/>
<rect x="413.12" y="295.90" width="15.08" height="12.40" fill="#8bdb32"/>
<rect x="427.90" y="295.90" width="15.08" height="12.40" fill="#1b7b9b"/>
<rect x="442.68" y="295.90" width="15.08" height="12.40" fill="#2f5b9e"/>
<rect x="457.46" y="295.90" width="15.08" height="12.40" fill="#4c2b8a"/>
<rect x="472.24" y="295.90" width="15.08" height="12.40" fill="#16b279"/>
<rect x="487.02" y="295.90" width="15.08" height="12.40" fill="#2f5b9e"/>
<rect x="354.00" y="308.00" width="15.08" height="12.40" fill="#8bdb32"/>
<rect x="368.78" y="308.00" width="15.08" height="12.40" fill="#16b279"/>
<rect x="383.56" y="308.00" width="15.08" height="12.40" fill="#1abe6e"/>
<rect x="398.34" y="308.00" width="15.08" height="12.40" fill="#149093"/>
<rect x="413.12" y="308.00" width="15.08" height="12.40" fill="#2bc85f"/>
<rect x="427.90" y="308.00" width="15.08" height="12.40" fill="#246b9e"/>
<rect x="442.68" y="308.00" width="15.08" height="12.40" fill="#4f2284"/>
<rect x="457.46" y="308.00" width="15.08" height="12.40" fill="#4a308e"/>
<rect x="472.24" y="308.00" width="15.08" height="12.40" fill="#16b279"/>
<rect x="487.02" y="308.00" width="15.08" height="12.40" fill="#149093"/>
<rect x="354.00" y="320.10" width="15.08" height="12.40" fill="#119a8f"/>
<rect x="368.78" y="320.10" width="15.08" height="12.40" fill="#16b279"/>
<rect x="383.56" y="320.10" width="15.08" height="12.40" fill="#16b279"/>
<rect x="398.34" y="320.10" width="15.08" height="12.40" fill="#1abe6e"/>
<rect x="413.12" y="320.10" width="15.08" height="12.40" fill="#2bc85f"/>
<rect x="427.90" y="320.10" width="15.08" height="12.40" fill="#1b7b9b"/>
<rect x="442.68" y="320.10" width="15.08" height="12.40" fill="#4c0d65"/>
<rect x="457.46" y="320.10" width="15.08" height="12.40" fill="#4a308e"/>
<rect x="472.24" y="320.10" width="15.08" height="12.40" fill="#1abe6e"/>
<rect x="487.02" y="320.10" width="15.08" height="12.40" fill="#149093"/>
<rect x="354.00" y="332.20" width="15.08" height="12.40" fill="#8bdb32"/>
<rect x="368.78" y="332.20" width="15.08" height="12.40" fill="#168797"/>
<rect x="383.56" y="332.20" width="15.08" height="12.40" fill="#2bc85f"/>
<rect x="398.34" y="332.20" width="15.08" height="12.40" fill="#ffe81a"/>
<rect x="413.12" y="332.20" width="15.08" height="12.40" fill="#168797"/>
<rect x="427.90" y="332.20" width="15.08" height="12.40" fill="#2f5b9e"/>
<rect x="442.68" y="332.20" width="15.08" height="12.40" fill="#17819a"/>
<rect x="457.46" y="332.20" width="15.08" height="12.40" fill="#2f5b9e"/>
<rect x="472.24" y="332.20" width="15.08" height="12.40" fill="#2a62a0"/>
<rect x="487.02" y="332.20" width="15.08" height="12.40" fill="#158a96"/>
<rect x="354.00" y="344.30" width="15.08" height="12.40" fill="#cbe21d"/>
<rect x="368.78" y="344.30" width="15.08" height="12.40" fill="#16b279"/>
<rect x="383.56" y="344.30" width="15.08" height="12.40" fill="#a4de26"/>
<rect x="398.34" y="344.30" width="15.08" height="12.40" fill="#16b279"/>
<rect x="413.12" y="344.30" width="15.08" height="12.40" fill="#10a08c"/>
<rect x="427.90" y="344.30" width="15.08" height="12.40" fill="#20729d"/>
<rect x="442.68" y="344.30" width="15.08" height="12.40" fill="#473994"/>
<rect x="457.46" y="344.30" width="15.08" height="12.40" fill="#473994"/>
<rect x="472.24" y="344.30" width="15.08" height="12.40" fill="#149093"/>
<rect x="487.02" y="344.30" width="15.08" height="12.40" fill="#20729d"/>
<rect x="354.00" y="356.40" width="15.08" height="12.40" fill="#ffe81a"/>
<rect x="368.78" y="356.40" width="15.08" height="12.40" fill="#10a08c"/>
<rect x="383.56" y="356.40" width="15.08" height="12.40" fill="#10a08c"/>
<rect x="398.34" y="356.40" width="15.08" height="12.40" fill="#16b279"/>
<rect x="413.12" y="356.40" width="15.08" height="12.40" fill="#16b279"/>
<rect x="427.90" y="356.40" width="15.08" height="12.40" fill="#26689f"/>
<rect x="442.68" y="356.40" width="15.08" height="12.40" fill="#40469a"/>
<rect x="457.46" y="356.40" width="15.08" height="12.40" fill="#473994"/>
<rect x="472.24" y="356.40" width="15.08" height="12.40" fill="#149093"/>
<rect x="487.02" y="356.40" width="15.08" height="12.40" fill="#20729d"/>
<rect x="354.00" y="368.50" width="15.08" height="12.40" fill="#14ab81"/>
<rect x="368.78" y="368.50" width="15.08" height="12.40" fill="#4a308e"/>
<rect x="383.56" y="368.50" width="15.08" height="12.40" fill="#7bd939"/>
<rect x="398.34" y="368.50" width="15.08" height="12.40" fill="#7bd939"/>
<rect x="413.12" y="368.50" width="15.08" height="12.40" fill="#7bd939"/>
<rect x="427.90" y="368.50" width="15.08" height="12.40" fill="#26689f"/>
<rect x="442.68" y="368.50" width="15.08" height="12.40" fill="#40469a"/>
<rect x="457.46" y="368.50" width="15.08" height="12.40" fill="#158a96"/>
<rect x="472.24" y="368.50" width="15.08" height="12.40" fill="#119a8f"/>
<rect x="487.02" y="368.50" width="15.08" height="12.40" fill="#1b7b9b"/>
<rect x="354.00" y="380.60" width="15.08" height="12.40" fill="#13a784"/>
<rect x="368.78" y="380.60" width="15.08" height="12.40" fill="#17819a"/>
<rect x="383.56" y="380.60" width="15.08" height="12.40" fill="#2bc85f"/>
<rect x="398.34" y="380.60" width="15.08" height="12.40" fill="#7bd939"/>
<rect x="413.12" y="380.60" width="15.08" height="12.40" fill="#2bc85f"/>
<rect x="427.90" y="380.60" width="15.08" height="12.40" fill="#119a8f"/>
<rect x="442.68" y="380.60" width="15.08" height="12.40" fill="#40469a"/>
<rect x="457.46" y="380.60" width="15.08" height="12.40" fill="#1b7b9b"/>
<rect x="472.24" y="380.60" width="15.08" height="12.40" fill="#119a8f"/>
<rect x="487.02" y="380.60" width="15.08" height="12.40" fill="#4c0d65"/>
<rect x="354.00" y="392.70" width="15.08" height="12.40" fill="#149093"/>
<rect x="368.78" y="392.70" width="15.08" height="12.40" fill="#17819a"/>
<rect x="383.56" y="392.70" width="15.08" height="12.40" fill="#40ce55"/>
<rect x="398.34" y="392.70" width="15.08" height="12.40" fill="#b4e01f"/>
<rect x="413.12" y="392.70" width="15.08" height="12.40" fill="#2bc85f"/>
<rect x="427.90" y="392.70" width="15.08" height="12.40" fill="#40469a"/>
<rect x="442.68" y="392.70" width="15.08" height="12.40" fill="#38509c"/>
<rect x="457.46" y="392.70" width="15.08" height="12.40" fill="#1b7b9b"/>
<rect x="472.24" y="392.70" width="15.08" height="12.40" fill="#16b279"/>
<rect x="487.02" y="392.70" width="15.08" height="12.40" fill="#4a308e"/>
<rect x="354.00" y="404.80" width="15.08" height="12.40" fill="#26689f"/>
<rect x="368.78" y="404.80" width="15.08" height="12.40" fill="#16b279"/>
<rect x="383.56" y="404.80" width="15.08" height="12.40" fill="#2bc85f"/>
<rect x="398.34" y="404.80" width="15.08" height="12.40" fill="#2bc85f"/>
<rect x="413.12" y="404.80" width="15.08" height="12.40" fill="#ffe81a"/>
<rect x="427.90" y="404.80" width="15.08" height="12.40" fill="#149093"/>
<rect x="442.68" y="404.80" width="15.08" height="12.40" fill="#4a308e"/>
<rect x="457.46" y="404.80" width="15.08" height="12.40" fill="#2f5b9e"/>
<rect x="472.24" y="404.80" width="15.08" height="12.40" fill="#158a96"/>
<rect x="487.02" y="404.80" width="15.08" height="12.40" fill="#158a96"/>
<rect x="354.00" y="416.90" width="15.08" height="12.40" fill="#246b9e"/>
<rect x="368.78" y="416.90" width="15.08" height="12.40" fill="#b4e01f"/>
<rect x="383.56" y="416.90" width="15.08" height="12.40" fill="#10a08c"/>
<rect x="398.34" y="416.90" width="15.08" height="12.40" fill="#16b279"/>
<rect x="413.12" y="416.90" width="15.08" height="12.40" fill="#1dc566"/>
<rect x="427.90" y="416.90" width="15.08" height="12.40" fill="#40ce55"/>
<rect x="442.68" y="416.90" width="15.08" height="12.40" fill="#4c136e"/>
<rect x="457.46" y="416.90" width="15.08" height="12.40" fill="#2f5b9e"/>
<rect x="472.24" y="416.90" width="15.08" height="12.40" fill="#158a96"/>
<rect x="487.02" y="416.90" width="15.08" height="12.40" fill="#17819a"/>
<rect x="354.00" y="429.00" width="15.08" height="12.40" fill="#40ce55"/>
<rect x="368.78" y="429.00" width="15.08" height="12.40" fill="#40ce55"/>
<rect x="383.56" y="429.00" width="15.08" height="12.40" fill="#10a08c"/>
<rect x="398.34" y="429.00" width="15.08" height="12.40" fill="#40ce55"/>
<rect x="413.12" y="429.00" width="15.08" height="12.40" fill="#149093"/>
<rect x="427.90" y="429.00" width="15.08" height="12.40" fill="#26689f"/>
<rect x="442.68" y="429.00" width="15.08" height="12.40" fill="#168797"/>
<rect x="457.46" y="429.00" width="15.08" height="12.40" fill="#26689f"/>
<rect x="472.24" y="429.00" width="15.08" height="12.40" fill="#1abe6e"/>
<rect x="487.02" y="429.00" width="15.08" height="12.40" fill="#4c0d65"/>
<rect x="354.00" y="441.10" width="15.08" height="12.40" fill="#ffe81a"/>
<rect x="368.78" y="441.10" width="15.08" height="12.40" fill="#cbe21d"/>
<rect x="383.56" y="441.10" width="15.08" height="12.40" fill="#246b9e"/>
<rect x="398.34" y="441.10" width="15.08" height="12.40" fill="#10a08c"/>
<rect x="413.12" y="441.10" width="15.08" height="12.40" fill="#10a08c"/>
<rect x="427.90" y="441.10" width="15.08" height="12.40" fill="#17819a"/>
<rect x="442.68" y="441.10" width="15.08" height="12.40" fill="#3d4a9a"/>
<rect x="457.46" y="441.10" width="15.08" height="12.40" fill="#20729d"/>
<rect x="472.24" y="441.10" width="15.08" height="12.40" fill="#158a96"/>
<rect x="487.02" y="441.10" width="15.08" height="12.40" fill="#2a62a0"/>
</g>
<g transform="translate(503.2,280.35) scale(0.925,1)"><text font-size="7.3" fill="#1a1a1a">BOLA3</text></g>
<g transform="translate(503.2,292.45) scale(0.925,1)"><text font-size="7.3" fill="#1a1a1a">PRDX6</text></g>
<g transform="translate(503.2,304.55) scale(0.925,1)"><text font-size="7.3" fill="#1a1a1a">GSR</text></g>
<g transform="translate(503.2,316.65) scale(0.925,1)"><text font-size="7.3" fill="#1a1a1a">PRDX1</text></g>
<g transform="translate(503.2,328.75) scale(0.925,1)"><text font-size="7.3" fill="#1a1a1a">TXN</text></g>
<g transform="translate(503.2,340.85) scale(0.925,1)"><text font-size="7.3" fill="#1a1a1a">GIT1</text></g>
<g transform="translate(503.2,352.95) scale(0.925,1)"><text font-size="7.3" fill="#1a1a1a">BOLA1</text></g>
<g transform="translate(503.2,365.05) scale(0.925,1)"><text font-size="7.3" fill="#1a1a1a">TXRD1</text></g>
<g transform="translate(503.2,377.15) scale(0.925,1)"><text font-size="7.3" fill="#1a1a1a">NQO1</text></g>
<g transform="translate(503.2,389.25) scale(0.925,1)"><text font-size="7.3" fill="#1a1a1a">TXRD2</text></g>
<g transform="translate(503.2,401.35) scale(0.925,1)"><text font-size="7.3" fill="#1a1a1a">PRDX5</text></g>
<g transform="translate(503.2,413.45) scale(0.925,1)"><text font-size="7.3" fill="#1a1a1a">TXN2</text></g>
<g transform="translate(503.2,425.55) scale(0.925,1)"><text font-size="7.3" fill="#1a1a1a">PRDX3</text></g>
<g transform="translate(503.2,437.65) scale(0.925,1)"><text font-size="7.3" fill="#1a1a1a">GLRX5</text></g>
<g transform="translate(503.2,449.75) scale(0.925,1)"><text font-size="7.3" fill="#1a1a1a">GLRX3</text></g>
<path d="M340.2,325.0V405.0M340.2,325.0H344.6M344.6,300.0V352.0M344.6,300.0H346.7M346.7,277.8V308.0M346.7,277.8H354.0M346.7,308.0H348.3M348.3,296.0V320.0M348.3,296.0H350.7M350.7,289.8V301.9M350.7,289.8H354.0M350.7,301.9H354.0M348.3,320.0H349.0M349.0,314.1V326.1M349.0,314.1H354.0M349.0,326.1H354.0M344.6,352.0H347.4M347.4,338.2V356.5M347.4,338.2H354.0M347.4,356.5H350.0M350.0,350.3V362.4M350.0,350.3H354.0M350.0,362.4H354.0M340.2,405.0H342.0M342.0,384.0V429.6M342.0,384.0H347.8M347.8,374.5V392.7M347.8,374.5H354.0M347.8,392.7H350.7M350.7,386.6V398.8M350.7,386.6H354.0M350.7,398.8H354.0M342.0,429.6H343.5M343.5,417.0V441.0M343.5,417.0H347.8M347.8,410.9V422.9M347.8,410.9H354.0M347.8,422.9H354.0M343.5,441.0H347.4M347.4,435.0V447.1M347.4,435.0H354.0M347.4,447.1H354.0" stroke="#8a8a8a" stroke-width="0.4" fill="none"/>
</svg>
</body></html>
